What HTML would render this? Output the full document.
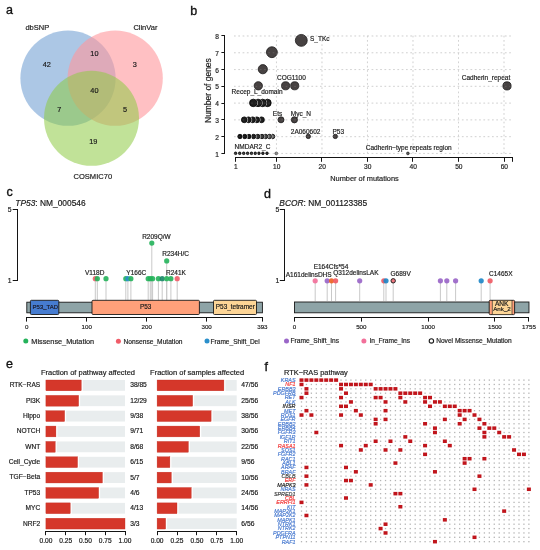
<!DOCTYPE html>
<html><head><meta charset="utf-8"><style>
html,body{margin:0;padding:0;background:#fff;}
body{width:540px;height:550px;overflow:hidden;}
svg{display:block;font-family:"Liberation Sans", sans-serif;filter:blur(0.3px);}
</style></head><body>
<svg width="540" height="550" viewBox="0 0 540 550">
<rect width="540" height="550" fill="#fff"/>
<text x="6.00" y="14.00" font-size="12.5" text-anchor="start" fill="#111" stroke="#111" stroke-width="0.35" >a</text>
<g>
<circle cx="68" cy="78.2" r="47.6" fill="rgb(89,143,203)" fill-opacity="0.5"/>
<circle cx="115.2" cy="78.2" r="47.6" fill="rgb(255,150,155)" fill-opacity="0.6"/>
<circle cx="91.5" cy="118.3" r="47.5" fill="rgb(142,202,68)" fill-opacity="0.55"/>
</g>
<text x="37.30" y="29.90" font-size="7.5" text-anchor="middle" fill="#222" stroke="#222" stroke-width="0.18" >dbSNP</text>
<text x="145.40" y="30.40" font-size="7.5" text-anchor="middle" fill="#222" stroke="#222" stroke-width="0.18" >ClinVar</text>
<text x="92.80" y="178.60" font-size="7.55" text-anchor="middle" fill="#222" stroke="#222" stroke-width="0.18" >COSMIC70</text>
<text x="46.70" y="67.35" font-size="7.3" text-anchor="middle" fill="#1a1a1a" stroke="#1a1a1a" stroke-width="0.18" >42</text>
<text x="94.40" y="55.55" font-size="7.3" text-anchor="middle" fill="#1a1a1a" stroke="#1a1a1a" stroke-width="0.18" >10</text>
<text x="134.90" y="67.35" font-size="7.3" text-anchor="middle" fill="#1a1a1a" stroke="#1a1a1a" stroke-width="0.18" >3</text>
<text x="94.40" y="93.35" font-size="7.3" text-anchor="middle" fill="#1a1a1a" stroke="#1a1a1a" stroke-width="0.18" >40</text>
<text x="59.30" y="112.25" font-size="7.3" text-anchor="middle" fill="#1a1a1a" stroke="#1a1a1a" stroke-width="0.18" >7</text>
<text x="125.10" y="112.25" font-size="7.3" text-anchor="middle" fill="#1a1a1a" stroke="#1a1a1a" stroke-width="0.18" >5</text>
<text x="93.30" y="144.05" font-size="7.3" text-anchor="middle" fill="#1a1a1a" stroke="#1a1a1a" stroke-width="0.18" >19</text>
<text x="190.20" y="15.00" font-size="12.5" text-anchor="start" fill="#111" stroke="#111" stroke-width="0.35" >b</text>
<g stroke="#cfcfcf" stroke-width="0.9" stroke-dasharray="1.7,2.6" opacity="1">
<line x1="234.0" y1="153.45" x2="512.5" y2="153.45"/>
<line x1="234.0" y1="136.67" x2="512.5" y2="136.67"/>
<line x1="234.0" y1="119.89" x2="512.5" y2="119.89"/>
<line x1="234.0" y1="103.11" x2="512.5" y2="103.11"/>
<line x1="234.0" y1="86.33" x2="512.5" y2="86.33"/>
<line x1="234.0" y1="69.55" x2="512.5" y2="69.55"/>
<line x1="234.0" y1="52.77" x2="512.5" y2="52.77"/>
<line x1="234.0" y1="35.99" x2="512.5" y2="35.99"/>
<line x1="276.46" y1="35.68999999999998" x2="276.46" y2="154.25"/>
<line x1="321.97" y1="35.68999999999998" x2="321.97" y2="154.25"/>
<line x1="367.48" y1="35.68999999999998" x2="367.48" y2="154.25"/>
<line x1="412.99" y1="35.68999999999998" x2="412.99" y2="154.25"/>
<line x1="458.50" y1="35.68999999999998" x2="458.50" y2="154.25"/>
<line x1="504.01" y1="35.68999999999998" x2="504.01" y2="154.25"/>
</g>
<circle cx="301.30" cy="40.40" r="5.95" fill="#474242" stroke="#1c1a1a" stroke-width="0.8"/>
<circle cx="271.90" cy="52.20" r="5.45" fill="#474242" stroke="#1c1a1a" stroke-width="0.8"/>
<circle cx="262.80" cy="69.20" r="4.60" fill="#474242" stroke="#1c1a1a" stroke-width="0.8"/>
<circle cx="258.30" cy="85.80" r="4.15" fill="#474242" stroke="#1c1a1a" stroke-width="0.8"/>
<circle cx="285.60" cy="85.80" r="4.05" fill="#474242" stroke="#1c1a1a" stroke-width="0.8"/>
<circle cx="294.70" cy="85.80" r="4.05" fill="#474242" stroke="#1c1a1a" stroke-width="0.8"/>
<circle cx="507.00" cy="85.90" r="4.10" fill="#474242" stroke="#1c1a1a" stroke-width="0.8"/>
<circle cx="281.00" cy="119.80" r="3.00" fill="#474242" stroke="#1c1a1a" stroke-width="0.8"/>
<circle cx="294.40" cy="119.80" r="3.10" fill="#474242" stroke="#1c1a1a" stroke-width="0.8"/>
<circle cx="308.30" cy="136.40" r="2.20" fill="#474242" stroke="#1c1a1a" stroke-width="0.8"/>
<circle cx="335.30" cy="136.40" r="2.20" fill="#474242" stroke="#1c1a1a" stroke-width="0.8"/>
<circle cx="267.45" cy="102.90" r="4.50" fill="#fff"/>
<circle cx="267.45" cy="102.90" r="3.75" fill="#1e1e1e" stroke="#000" stroke-width="0.8"/>
<circle cx="262.55" cy="102.90" r="4.50" fill="#fff"/>
<circle cx="262.55" cy="102.90" r="3.75" fill="#1e1e1e" stroke="#000" stroke-width="0.8"/>
<circle cx="258.05" cy="102.90" r="4.50" fill="#fff"/>
<circle cx="258.05" cy="102.90" r="3.75" fill="#1e1e1e" stroke="#000" stroke-width="0.8"/>
<circle cx="253.30" cy="102.90" r="4.50" fill="#fff"/>
<circle cx="253.30" cy="102.90" r="3.75" fill="#1e1e1e" stroke="#000" stroke-width="0.8"/>
<circle cx="261.50" cy="119.80" r="3.65" fill="#fff"/>
<circle cx="261.50" cy="119.80" r="2.90" fill="#1e1e1e" stroke="#000" stroke-width="0.8"/>
<circle cx="256.80" cy="119.80" r="3.65" fill="#fff"/>
<circle cx="256.80" cy="119.80" r="2.90" fill="#1e1e1e" stroke="#000" stroke-width="0.8"/>
<circle cx="252.60" cy="119.80" r="3.65" fill="#fff"/>
<circle cx="252.60" cy="119.80" r="2.90" fill="#1e1e1e" stroke="#000" stroke-width="0.8"/>
<circle cx="248.40" cy="119.80" r="3.65" fill="#fff"/>
<circle cx="248.40" cy="119.80" r="2.90" fill="#1e1e1e" stroke="#000" stroke-width="0.8"/>
<circle cx="244.30" cy="119.80" r="3.65" fill="#fff"/>
<circle cx="244.30" cy="119.80" r="2.90" fill="#1e1e1e" stroke="#000" stroke-width="0.8"/>
<circle cx="272.60" cy="136.50" r="2.95" fill="#fff"/>
<circle cx="272.60" cy="136.50" r="2.20" fill="#5e5e5e" stroke="#000" stroke-width="0.8"/>
<circle cx="269.40" cy="136.50" r="2.95" fill="#fff"/>
<circle cx="269.40" cy="136.50" r="2.20" fill="#525252" stroke="#000" stroke-width="0.8"/>
<circle cx="265.60" cy="136.50" r="2.95" fill="#fff"/>
<circle cx="265.60" cy="136.50" r="2.20" fill="#464646" stroke="#000" stroke-width="0.8"/>
<circle cx="262.00" cy="136.50" r="2.95" fill="#fff"/>
<circle cx="262.00" cy="136.50" r="2.20" fill="#3a3a3a" stroke="#000" stroke-width="0.8"/>
<circle cx="257.80" cy="136.50" r="2.95" fill="#fff"/>
<circle cx="257.80" cy="136.50" r="2.20" fill="#2e2e2e" stroke="#000" stroke-width="0.8"/>
<circle cx="253.60" cy="136.50" r="2.95" fill="#fff"/>
<circle cx="253.60" cy="136.50" r="2.20" fill="#1e1e1e" stroke="#000" stroke-width="0.8"/>
<circle cx="249.00" cy="136.50" r="2.95" fill="#fff"/>
<circle cx="249.00" cy="136.50" r="2.20" fill="#181818" stroke="#000" stroke-width="0.8"/>
<circle cx="244.80" cy="136.50" r="2.95" fill="#fff"/>
<circle cx="244.80" cy="136.50" r="2.20" fill="#141414" stroke="#000" stroke-width="0.8"/>
<circle cx="240.00" cy="136.50" r="2.95" fill="#fff"/>
<circle cx="240.00" cy="136.50" r="2.20" fill="#111" stroke="#000" stroke-width="0.8"/>
<circle cx="267.00" cy="153.30" r="2.05" fill="#fff"/>
<circle cx="267.00" cy="153.30" r="1.30" fill="#333" stroke="#000" stroke-width="0.8"/>
<circle cx="262.90" cy="153.30" r="2.05" fill="#fff"/>
<circle cx="262.90" cy="153.30" r="1.30" fill="#333" stroke="#000" stroke-width="0.8"/>
<circle cx="258.90" cy="153.30" r="2.05" fill="#fff"/>
<circle cx="258.90" cy="153.30" r="1.30" fill="#333" stroke="#000" stroke-width="0.8"/>
<circle cx="255.20" cy="153.30" r="2.05" fill="#fff"/>
<circle cx="255.20" cy="153.30" r="1.30" fill="#333" stroke="#000" stroke-width="0.8"/>
<circle cx="251.50" cy="153.30" r="2.05" fill="#fff"/>
<circle cx="251.50" cy="153.30" r="1.30" fill="#333" stroke="#000" stroke-width="0.8"/>
<circle cx="247.60" cy="153.30" r="2.05" fill="#fff"/>
<circle cx="247.60" cy="153.30" r="1.30" fill="#333" stroke="#000" stroke-width="0.8"/>
<circle cx="243.70" cy="153.30" r="2.05" fill="#fff"/>
<circle cx="243.70" cy="153.30" r="1.30" fill="#333" stroke="#000" stroke-width="0.8"/>
<circle cx="239.70" cy="153.30" r="2.05" fill="#fff"/>
<circle cx="239.70" cy="153.30" r="1.30" fill="#333" stroke="#000" stroke-width="0.8"/>
<circle cx="235.60" cy="153.30" r="2.05" fill="#fff"/>
<circle cx="235.60" cy="153.30" r="1.30" fill="#333" stroke="#000" stroke-width="0.8"/>
<circle cx="276.3" cy="153.4" r="1.4" fill="#888" stroke="#333" stroke-width="0.6"/>
<circle cx="407.9" cy="153.4" r="1.4" fill="#555" stroke="#111" stroke-width="0.6"/>
<g stroke="#cfcfcf" stroke-width="0.9" stroke-dasharray="1.7,2.6" opacity="0.18">
<line x1="234.0" y1="153.45" x2="512.5" y2="153.45"/>
<line x1="234.0" y1="136.67" x2="512.5" y2="136.67"/>
<line x1="234.0" y1="119.89" x2="512.5" y2="119.89"/>
<line x1="234.0" y1="103.11" x2="512.5" y2="103.11"/>
<line x1="234.0" y1="86.33" x2="512.5" y2="86.33"/>
<line x1="234.0" y1="69.55" x2="512.5" y2="69.55"/>
<line x1="234.0" y1="52.77" x2="512.5" y2="52.77"/>
<line x1="234.0" y1="35.99" x2="512.5" y2="35.99"/>
<line x1="276.46" y1="35.68999999999998" x2="276.46" y2="154.25"/>
<line x1="321.97" y1="35.68999999999998" x2="321.97" y2="154.25"/>
<line x1="367.48" y1="35.68999999999998" x2="367.48" y2="154.25"/>
<line x1="412.99" y1="35.68999999999998" x2="412.99" y2="154.25"/>
<line x1="458.50" y1="35.68999999999998" x2="458.50" y2="154.25"/>
<line x1="504.01" y1="35.68999999999998" x2="504.01" y2="154.25"/>
</g>
<g stroke="#141414" stroke-width="1" fill="none">
<line x1="224.5" y1="35.00" x2="224.5" y2="154.00"/>
<line x1="221.4" y1="153.50" x2="224.5" y2="153.50"/>
<line x1="221.4" y1="136.50" x2="224.5" y2="136.50"/>
<line x1="221.4" y1="119.50" x2="224.5" y2="119.50"/>
<line x1="221.4" y1="103.50" x2="224.5" y2="103.50"/>
<line x1="221.4" y1="86.50" x2="224.5" y2="86.50"/>
<line x1="221.4" y1="69.50" x2="224.5" y2="69.50"/>
<line x1="221.4" y1="52.50" x2="224.5" y2="52.50"/>
<line x1="221.4" y1="35.50" x2="224.5" y2="35.50"/>
<line x1="235.00" y1="157.5" x2="513.0" y2="157.5"/>
<line x1="235.50" y1="157.5" x2="235.50" y2="161.8"/>
<line x1="276.50" y1="157.5" x2="276.50" y2="161.8"/>
<line x1="321.50" y1="157.5" x2="321.50" y2="161.8"/>
<line x1="367.50" y1="157.5" x2="367.50" y2="161.8"/>
<line x1="412.50" y1="157.5" x2="412.50" y2="161.8"/>
<line x1="458.50" y1="157.5" x2="458.50" y2="161.8"/>
<line x1="504.50" y1="157.5" x2="504.50" y2="161.8"/>
<line x1="512.5" y1="157.5" x2="512.5" y2="161.8"/>
</g>
<text x="217.20" y="156.55" font-size="6.6" text-anchor="middle" fill="#222" stroke="#222" stroke-width="0.18" >1</text>
<text x="217.20" y="139.77" font-size="6.6" text-anchor="middle" fill="#222" stroke="#222" stroke-width="0.18" >2</text>
<text x="217.20" y="122.99" font-size="6.6" text-anchor="middle" fill="#222" stroke="#222" stroke-width="0.18" >3</text>
<text x="217.20" y="106.21" font-size="6.6" text-anchor="middle" fill="#222" stroke="#222" stroke-width="0.18" >4</text>
<text x="217.20" y="89.43" font-size="6.6" text-anchor="middle" fill="#222" stroke="#222" stroke-width="0.18" >5</text>
<text x="217.20" y="72.65" font-size="6.6" text-anchor="middle" fill="#222" stroke="#222" stroke-width="0.18" >6</text>
<text x="217.20" y="55.87" font-size="6.6" text-anchor="middle" fill="#222" stroke="#222" stroke-width="0.18" >7</text>
<text x="217.20" y="39.09" font-size="6.6" text-anchor="middle" fill="#222" stroke="#222" stroke-width="0.18" >8</text>
<text x="235.80" y="169.00" font-size="6.6" text-anchor="middle" fill="#222" stroke="#222" stroke-width="0.18" >1</text>
<text x="276.76" y="169.00" font-size="6.6" text-anchor="middle" fill="#222" stroke="#222" stroke-width="0.18" >10</text>
<text x="322.27" y="169.00" font-size="6.6" text-anchor="middle" fill="#222" stroke="#222" stroke-width="0.18" >20</text>
<text x="367.78" y="169.00" font-size="6.6" text-anchor="middle" fill="#222" stroke="#222" stroke-width="0.18" >30</text>
<text x="413.29" y="169.00" font-size="6.6" text-anchor="middle" fill="#222" stroke="#222" stroke-width="0.18" >40</text>
<text x="458.80" y="169.00" font-size="6.6" text-anchor="middle" fill="#222" stroke="#222" stroke-width="0.18" >50</text>
<text x="504.31" y="169.00" font-size="6.6" text-anchor="middle" fill="#222" stroke="#222" stroke-width="0.18" >60</text>
<text x="364.50" y="180.60" font-size="7.4" text-anchor="middle" fill="#222" stroke="#222" stroke-width="0.18" >Number of mutations</text>
<text x="0" y="0" font-size="8.45" text-anchor="middle" fill="#222" stroke="#222" stroke-width="0.18" transform="translate(211.0,90.6) rotate(-90)">Number of genes</text>
<text x="310.00" y="41.00" font-size="6.5" text-anchor="start" fill="#222" stroke="#222" stroke-width="0.18" >S_TKc</text>
<text x="277.00" y="80.00" font-size="6.5" text-anchor="start" fill="#222" stroke="#222" stroke-width="0.18" >COG1100</text>
<text x="231.60" y="94.40" font-size="6.5" text-anchor="start" fill="#222" stroke="#222" stroke-width="0.18" >Recep_L_domain</text>
<text x="272.80" y="116.00" font-size="6.5" text-anchor="start" fill="#222" stroke="#222" stroke-width="0.18" >Ets</text>
<text x="290.80" y="116.00" font-size="6.5" text-anchor="start" fill="#222" stroke="#222" stroke-width="0.18" >Myc_N</text>
<text x="290.80" y="134.00" font-size="6.5" text-anchor="start" fill="#222" stroke="#222" stroke-width="0.18" >2A060602</text>
<text x="332.50" y="134.00" font-size="6.5" text-anchor="start" fill="#222" stroke="#222" stroke-width="0.18" >P53</text>
<text x="234.60" y="149.40" font-size="6.5" text-anchor="start" fill="#222" stroke="#222" stroke-width="0.18" >NMDAR2_C</text>
<text x="461.80" y="79.50" font-size="6.5" text-anchor="start" fill="#222" stroke="#222" stroke-width="0.18" >Cadherin_repeat</text>
<text x="365.80" y="149.60" font-size="6.5" text-anchor="start" fill="#222" stroke="#222" stroke-width="0.18" >Cadherin−type repeats region</text>
<text x="6.60" y="195.60" font-size="12.5" text-anchor="start" fill="#111" stroke="#111" stroke-width="0.35" >c</text>
<text x="15.3" y="205.9" font-size="8.4" fill="#1a1a1a" stroke="#1a1a1a" stroke-width="0.18"><tspan font-style="italic">TP53</tspan>: NM_000546</text>
<g stroke="#141414" stroke-width="1">
<line x1="17.5" y1="209" x2="17.5" y2="281"/>
<line x1="12.7" y1="209.5" x2="18" y2="209.5"/>
<line x1="12.7" y1="280.5" x2="18" y2="280.5"/>
</g>
<text x="9.60" y="211.90" font-size="6.8" text-anchor="middle" fill="#222" stroke="#222" stroke-width="0.18" >5</text>
<text x="9.60" y="283.30" font-size="6.8" text-anchor="middle" fill="#222" stroke="#222" stroke-width="0.18" >1</text>
<g stroke="#c9c9c9" stroke-width="1">
<line x1="95.30" y1="278.70" x2="95.30" y2="301"/>
<line x1="97.30" y1="278.70" x2="97.30" y2="301"/>
<line x1="106.00" y1="278.70" x2="106.00" y2="301"/>
<line x1="125.80" y1="278.70" x2="125.80" y2="301"/>
<line x1="127.90" y1="278.70" x2="127.90" y2="301"/>
<line x1="130.90" y1="278.70" x2="130.90" y2="301"/>
<line x1="148.20" y1="278.70" x2="148.20" y2="301"/>
<line x1="150.30" y1="278.70" x2="150.30" y2="301"/>
<line x1="152.60" y1="278.70" x2="152.60" y2="301"/>
<line x1="151.80" y1="243.10" x2="151.80" y2="301"/>
<line x1="158.40" y1="278.70" x2="158.40" y2="301"/>
<line x1="162.20" y1="278.70" x2="162.20" y2="301"/>
<line x1="166.70" y1="278.70" x2="166.70" y2="301"/>
<line x1="166.70" y1="260.90" x2="166.70" y2="301"/>
<line x1="170.90" y1="278.70" x2="170.90" y2="301"/>
<line x1="177.20" y1="278.70" x2="177.20" y2="301"/>
</g>
<circle cx="95.30" cy="278.70" r="2.6" fill="#f05c68" fill-opacity="0.9"/>
<circle cx="97.30" cy="278.70" r="2.6" fill="#24b25a" fill-opacity="0.9"/>
<circle cx="106.00" cy="278.70" r="2.6" fill="#24b25a" fill-opacity="0.9"/>
<circle cx="125.80" cy="278.70" r="2.6" fill="#24b25a" fill-opacity="0.9"/>
<circle cx="127.90" cy="278.70" r="2.6" fill="#2a8fcb" fill-opacity="0.9"/>
<circle cx="130.90" cy="278.70" r="2.6" fill="#24b25a" fill-opacity="0.9"/>
<circle cx="148.20" cy="278.70" r="2.6" fill="#24b25a" fill-opacity="0.9"/>
<circle cx="150.30" cy="278.70" r="2.6" fill="#24b25a" fill-opacity="0.9"/>
<circle cx="152.60" cy="278.70" r="2.6" fill="#24b25a" fill-opacity="0.9"/>
<circle cx="151.80" cy="243.10" r="2.6" fill="#24b25a" fill-opacity="0.9"/>
<circle cx="158.40" cy="278.70" r="2.6" fill="#24b25a" fill-opacity="0.9"/>
<circle cx="162.20" cy="278.70" r="2.6" fill="#178766" fill-opacity="0.9"/>
<circle cx="166.70" cy="278.70" r="2.6" fill="#24b25a" fill-opacity="0.9"/>
<circle cx="166.70" cy="260.90" r="2.6" fill="#24b25a" fill-opacity="0.9"/>
<circle cx="170.90" cy="278.70" r="2.6" fill="#24b25a" fill-opacity="0.9"/>
<circle cx="177.20" cy="278.70" r="2.6" fill="#f05c68" fill-opacity="0.9"/>
<text x="94.70" y="275.20" font-size="6.5" text-anchor="middle" fill="#222" stroke="#222" stroke-width="0.18" >V118D</text>
<text x="136.30" y="275.20" font-size="6.5" text-anchor="middle" fill="#222" stroke="#222" stroke-width="0.18" >Y166C</text>
<text x="156.40" y="238.70" font-size="6.5" text-anchor="middle" fill="#222" stroke="#222" stroke-width="0.18" >R209Q/W</text>
<text x="175.60" y="256.20" font-size="6.5" text-anchor="middle" fill="#222" stroke="#222" stroke-width="0.18" >R234H/C</text>
<text x="176.00" y="275.30" font-size="6.5" text-anchor="middle" fill="#222" stroke="#222" stroke-width="0.18" >R241K</text>
<rect x="26.80" y="302.2" width="235.60" height="10.6" fill="#8ea4a7" stroke="#1a1a1a" stroke-width="0.9"/>
<rect x="30.4" y="300.3" width="28.4" height="14.2" rx="1" fill="#467cd0" stroke="#1a1a1a" stroke-width="0.9"/>
<rect x="92.0" y="300.3" width="107.4" height="14.2" rx="1" fill="#ffa07a" stroke="#1a1a1a" stroke-width="0.9"/>
<rect x="213.5" y="300.3" width="43.0" height="14.2" rx="1" fill="#fdd596" stroke="#1a1a1a" stroke-width="0.9"/>
<text x="45.40" y="308.70" font-size="6.0" text-anchor="middle" fill="#1b1b2a" stroke="#1b1b2a" stroke-width="0.18" >P53_TAD</text>
<text x="145.70" y="308.80" font-size="6.4" text-anchor="middle" fill="#1b1b1b" stroke="#1b1b1b" stroke-width="0.18" >P53</text>
<text x="235.30" y="308.80" font-size="6.45" text-anchor="middle" fill="#1b1b1b" stroke="#1b1b1b" stroke-width="0.18" >P53_tetramer</text>
<g stroke="#141414" stroke-width="1">
<line x1="26.00" y1="317.5" x2="263.00" y2="317.5"/>
<line x1="26.50" y1="317.5" x2="26.50" y2="321.6"/>
<line x1="86.50" y1="317.5" x2="86.50" y2="321.6"/>
<line x1="146.50" y1="317.5" x2="146.50" y2="321.6"/>
<line x1="206.50" y1="317.5" x2="206.50" y2="321.6"/>
<line x1="262.50" y1="317.5" x2="262.50" y2="321.6"/>
</g>
<text x="26.80" y="329.30" font-size="6.2" text-anchor="middle" fill="#222" stroke="#222" stroke-width="0.18" >0</text>
<text x="86.75" y="329.30" font-size="6.2" text-anchor="middle" fill="#222" stroke="#222" stroke-width="0.18" >100</text>
<text x="146.70" y="329.30" font-size="6.2" text-anchor="middle" fill="#222" stroke="#222" stroke-width="0.18" >200</text>
<text x="206.65" y="329.30" font-size="6.2" text-anchor="middle" fill="#222" stroke="#222" stroke-width="0.18" >300</text>
<text x="262.40" y="329.30" font-size="6.2" text-anchor="middle" fill="#222" stroke="#222" stroke-width="0.18" >393</text>
<circle cx="25.8" cy="341.1" r="2.5" fill="#24b25a"/>
<text x="31.30" y="343.50" font-size="7.3" text-anchor="start" fill="#222" stroke="#222" stroke-width="0.18" >Missense_Mutation</text>
<circle cx="118.4" cy="341.3" r="2.5" fill="#f05c68"/>
<text x="123.50" y="343.50" font-size="6.65" text-anchor="start" fill="#222" stroke="#222" stroke-width="0.18" >Nonsense_Mutation</text>
<circle cx="207.0" cy="341.1" r="2.5" fill="#2a8fcb"/>
<text x="210.60" y="343.50" font-size="6.55" text-anchor="start" fill="#222" stroke="#222" stroke-width="0.18" >Frame_Shift_Del</text>
<text x="264.00" y="197.60" font-size="12.5" text-anchor="start" fill="#111" stroke="#111" stroke-width="0.35" >d</text>
<text x="279.3" y="205.9" font-size="8.4" fill="#1a1a1a" stroke="#1a1a1a" stroke-width="0.18"><tspan font-style="italic">BCOR</tspan>: NM_001123385</text>
<g stroke="#141414" stroke-width="1">
<line x1="284.5" y1="209" x2="284.5" y2="281"/>
<line x1="279.8" y1="209.5" x2="285" y2="209.5"/>
<line x1="279.8" y1="280.5" x2="285" y2="280.5"/>
</g>
<text x="277.50" y="211.90" font-size="6.8" text-anchor="middle" fill="#222" stroke="#222" stroke-width="0.18" >5</text>
<text x="277.40" y="283.30" font-size="6.8" text-anchor="middle" fill="#222" stroke="#222" stroke-width="0.18" >1</text>
<g stroke="#c9c9c9" stroke-width="1">
<line x1="315.20" y1="280.8" x2="315.20" y2="301"/>
<line x1="327.20" y1="280.8" x2="327.20" y2="301"/>
<line x1="331.50" y1="280.8" x2="331.50" y2="301"/>
<line x1="335.60" y1="280.8" x2="335.60" y2="301"/>
<line x1="359.70" y1="280.8" x2="359.70" y2="301"/>
<line x1="383.80" y1="280.8" x2="383.80" y2="301"/>
<line x1="386.00" y1="280.8" x2="386.00" y2="301"/>
<line x1="393.20" y1="280.8" x2="393.20" y2="301"/>
<line x1="440.40" y1="280.8" x2="440.40" y2="301"/>
<line x1="446.80" y1="280.8" x2="446.80" y2="301"/>
<line x1="455.60" y1="280.8" x2="455.60" y2="301"/>
<line x1="481.20" y1="280.8" x2="481.20" y2="301"/>
<line x1="490.10" y1="280.8" x2="490.10" y2="301"/>
</g>
<circle cx="315.20" cy="280.8" r="2.6" fill="#f2709a" fill-opacity="0.92"/>
<circle cx="327.20" cy="280.8" r="2.6" fill="#9a66c8" fill-opacity="0.92"/>
<circle cx="331.50" cy="280.8" r="2.6" fill="#ee6424" fill-opacity="0.92"/>
<circle cx="335.60" cy="280.8" r="2.6" fill="#f05a64" fill-opacity="0.92"/>
<circle cx="359.70" cy="280.8" r="2.6" fill="#9a66c8" fill-opacity="0.92"/>
<circle cx="383.80" cy="280.8" r="2.6" fill="#f05a64" fill-opacity="0.92"/>
<circle cx="386.00" cy="280.8" r="2.6" fill="#1f88c8" fill-opacity="0.92"/>
<circle cx="393.20" cy="280.8" r="2.2" fill="#f07880" stroke="#222" stroke-width="1.0"/>
<circle cx="440.40" cy="280.8" r="2.6" fill="#9a66c8" fill-opacity="0.92"/>
<circle cx="446.80" cy="280.8" r="2.6" fill="#9a66c8" fill-opacity="0.92"/>
<circle cx="455.60" cy="280.8" r="2.6" fill="#9a66c8" fill-opacity="0.92"/>
<circle cx="481.20" cy="280.8" r="2.6" fill="#1f88c8" fill-opacity="0.92"/>
<circle cx="490.10" cy="280.8" r="2.6" fill="#f05a64" fill-opacity="0.92"/>
<text x="331.00" y="268.50" font-size="6.5" text-anchor="middle" fill="#222" stroke="#222" stroke-width="0.18" >E164Cfs*54</text>
<text x="308.70" y="277.30" font-size="6.5" text-anchor="middle" fill="#222" stroke="#222" stroke-width="0.18" >A161delinsDHS</text>
<text x="355.90" y="274.50" font-size="6.5" text-anchor="middle" fill="#222" stroke="#222" stroke-width="0.18" >Q312delinsLAK</text>
<text x="400.70" y="275.70" font-size="6.5" text-anchor="middle" fill="#222" stroke="#222" stroke-width="0.18" >G689V</text>
<text x="500.80" y="275.70" font-size="6.5" text-anchor="middle" fill="#222" stroke="#222" stroke-width="0.18" >C1465X</text>
<rect x="294.50" y="302.0" width="234.47" height="10.8" fill="#8ea4a7" stroke="#1a1a1a" stroke-width="0.9"/>
<rect x="489.2" y="300.3" width="25.4" height="14.3" rx="1" fill="#ffa07a" stroke="#1a1a1a" stroke-width="0.9"/>
<rect x="492.2" y="300.3" width="19.8" height="14.3" fill="#fdd596" stroke="#1a1a1a" stroke-width="0.6"/>
<text x="501.70" y="306.00" font-size="6.6" text-anchor="middle" fill="#1b1b1b" stroke="#1b1b1b" stroke-width="0.18" >ANK</text>
<text x="502.00" y="311.30" font-size="6.2" text-anchor="middle" fill="#1b1b1b" stroke="#1b1b1b" stroke-width="0.18" >Ank_2</text>
<g stroke="#141414" stroke-width="1">
<line x1="294.00" y1="317.5" x2="529.00" y2="317.5"/>
<line x1="294.50" y1="317.5" x2="294.50" y2="321.6"/>
<line x1="361.50" y1="317.5" x2="361.50" y2="321.6"/>
<line x1="428.50" y1="317.5" x2="428.50" y2="321.6"/>
<line x1="494.50" y1="317.5" x2="494.50" y2="321.6"/>
<line x1="528.50" y1="317.5" x2="528.50" y2="321.6"/>
</g>
<text x="294.50" y="329.20" font-size="6.2" text-anchor="middle" fill="#222" stroke="#222" stroke-width="0.18" >0</text>
<text x="361.30" y="329.20" font-size="6.2" text-anchor="middle" fill="#222" stroke="#222" stroke-width="0.18" >500</text>
<text x="428.10" y="329.20" font-size="6.2" text-anchor="middle" fill="#222" stroke="#222" stroke-width="0.18" >1000</text>
<text x="494.90" y="329.20" font-size="6.2" text-anchor="middle" fill="#222" stroke="#222" stroke-width="0.18" >1500</text>
<text x="528.97" y="329.20" font-size="6.2" text-anchor="middle" fill="#222" stroke="#222" stroke-width="0.18" >1755</text>
<circle cx="286.5" cy="340.9" r="2.5" fill="#9a66c8"/>
<text x="290.60" y="343.30" font-size="6.6" text-anchor="start" fill="#222" stroke="#222" stroke-width="0.18" >Frame_Shift_Ins</text>
<circle cx="363.9" cy="340.9" r="2.5" fill="#f2709a"/>
<text x="369.40" y="343.30" font-size="6.6" text-anchor="start" fill="#222" stroke="#222" stroke-width="0.18" >In_Frame_Ins</text>
<circle cx="431.4" cy="340.9" r="2.2" fill="none" stroke="#1a1a1a" stroke-width="1.1"/>
<text x="436.20" y="343.30" font-size="6.6" text-anchor="start" fill="#222" stroke="#222" stroke-width="0.18" >Novel Missense_Mutation</text>
<text x="6.00" y="368.20" font-size="12.5" text-anchor="start" fill="#111" stroke="#111" stroke-width="0.35" >e</text>
<text x="88.00" y="374.80" font-size="7.5" text-anchor="middle" fill="#1a1a1a" stroke="#1a1a1a" stroke-width="0.18" >Fraction of pathway affected</text>
<text x="197.10" y="374.80" font-size="7.5" text-anchor="middle" fill="#1a1a1a" stroke="#1a1a1a" stroke-width="0.18" >Fraction of samples affected</text>
<rect x="82.76" y="380.00" width="42.24" height="10.8" fill="#e9edee"/>
<rect x="45.90" y="380.00" width="35.36" height="10.8" fill="#d5372a" stroke="#c22c20" stroke-width="0.35"/>
<rect x="225.41" y="380.00" width="11.29" height="10.8" fill="#e9edee"/>
<rect x="157.10" y="380.00" width="66.81" height="10.8" fill="#d5372a" stroke="#c22c20" stroke-width="0.35"/>
<text x="40.20" y="387.30" font-size="6.6" text-anchor="end" fill="#1a1a1a" stroke="#1a1a1a" stroke-width="0.18" >RTK−RAS</text>
<text x="130.20" y="387.40" font-size="6.65" text-anchor="start" fill="#1a1a1a" stroke="#1a1a1a" stroke-width="0.18" >38/85</text>
<text x="241.30" y="387.40" font-size="6.75" text-anchor="start" fill="#1a1a1a" stroke="#1a1a1a" stroke-width="0.18" >47/56</text>
<rect x="80.13" y="395.36" width="44.87" height="10.8" fill="#e9edee"/>
<rect x="45.90" y="395.36" width="32.73" height="10.8" fill="#d5372a" stroke="#c22c20" stroke-width="0.35"/>
<rect x="194.14" y="395.36" width="42.56" height="10.8" fill="#e9edee"/>
<rect x="157.10" y="395.36" width="35.54" height="10.8" fill="#d5372a" stroke="#c22c20" stroke-width="0.35"/>
<text x="40.20" y="402.66" font-size="6.6" text-anchor="end" fill="#1a1a1a" stroke="#1a1a1a" stroke-width="0.18" >PI3K</text>
<text x="130.20" y="402.76" font-size="6.65" text-anchor="start" fill="#1a1a1a" stroke="#1a1a1a" stroke-width="0.18" >12/29</text>
<text x="241.30" y="402.76" font-size="6.75" text-anchor="start" fill="#1a1a1a" stroke="#1a1a1a" stroke-width="0.18" >25/56</text>
<rect x="66.13" y="410.72" width="58.87" height="10.8" fill="#e9edee"/>
<rect x="45.90" y="410.72" width="18.73" height="10.8" fill="#d5372a" stroke="#c22c20" stroke-width="0.35"/>
<rect x="212.61" y="410.72" width="24.09" height="10.8" fill="#e9edee"/>
<rect x="157.10" y="410.72" width="54.01" height="10.8" fill="#d5372a" stroke="#c22c20" stroke-width="0.35"/>
<text x="40.20" y="418.02" font-size="6.6" text-anchor="end" fill="#1a1a1a" stroke="#1a1a1a" stroke-width="0.18" >Hippo</text>
<text x="130.20" y="418.12" font-size="6.65" text-anchor="start" fill="#1a1a1a" stroke="#1a1a1a" stroke-width="0.18" >9/38</text>
<text x="241.30" y="418.12" font-size="6.75" text-anchor="start" fill="#1a1a1a" stroke="#1a1a1a" stroke-width="0.18" >38/56</text>
<rect x="57.43" y="426.08" width="67.57" height="10.8" fill="#e9edee"/>
<rect x="45.90" y="426.08" width="10.03" height="10.8" fill="#d5372a" stroke="#c22c20" stroke-width="0.35"/>
<rect x="201.24" y="426.08" width="35.46" height="10.8" fill="#e9edee"/>
<rect x="157.10" y="426.08" width="42.64" height="10.8" fill="#d5372a" stroke="#c22c20" stroke-width="0.35"/>
<text x="40.20" y="433.38" font-size="6.6" text-anchor="end" fill="#1a1a1a" stroke="#1a1a1a" stroke-width="0.18" >NOTCH</text>
<text x="130.20" y="433.48" font-size="6.65" text-anchor="start" fill="#1a1a1a" stroke="#1a1a1a" stroke-width="0.18" >9/71</text>
<text x="241.30" y="433.48" font-size="6.75" text-anchor="start" fill="#1a1a1a" stroke="#1a1a1a" stroke-width="0.18" >30/56</text>
<rect x="56.71" y="441.44" width="68.29" height="10.8" fill="#e9edee"/>
<rect x="45.90" y="441.44" width="9.31" height="10.8" fill="#d5372a" stroke="#c22c20" stroke-width="0.35"/>
<rect x="189.87" y="441.44" width="46.83" height="10.8" fill="#e9edee"/>
<rect x="157.10" y="441.44" width="31.27" height="10.8" fill="#d5372a" stroke="#c22c20" stroke-width="0.35"/>
<text x="40.20" y="448.74" font-size="6.6" text-anchor="end" fill="#1a1a1a" stroke="#1a1a1a" stroke-width="0.18" >WNT</text>
<text x="130.20" y="448.84" font-size="6.65" text-anchor="start" fill="#1a1a1a" stroke="#1a1a1a" stroke-width="0.18" >8/68</text>
<text x="241.30" y="448.84" font-size="6.75" text-anchor="start" fill="#1a1a1a" stroke="#1a1a1a" stroke-width="0.18" >22/56</text>
<rect x="79.04" y="456.80" width="45.96" height="10.8" fill="#e9edee"/>
<rect x="45.90" y="456.80" width="31.64" height="10.8" fill="#d5372a" stroke="#c22c20" stroke-width="0.35"/>
<rect x="171.39" y="456.80" width="65.31" height="10.8" fill="#e9edee"/>
<rect x="157.10" y="456.80" width="12.79" height="10.8" fill="#d5372a" stroke="#c22c20" stroke-width="0.35"/>
<text x="40.20" y="464.10" font-size="6.6" text-anchor="end" fill="#1a1a1a" stroke="#1a1a1a" stroke-width="0.18" >Cell_Cycle</text>
<text x="130.20" y="464.20" font-size="6.65" text-anchor="start" fill="#1a1a1a" stroke="#1a1a1a" stroke-width="0.18" >6/15</text>
<text x="241.30" y="464.20" font-size="6.75" text-anchor="start" fill="#1a1a1a" stroke="#1a1a1a" stroke-width="0.18" >9/56</text>
<rect x="103.90" y="472.16" width="21.10" height="10.8" fill="#e9edee"/>
<rect x="45.90" y="472.16" width="56.50" height="10.8" fill="#d5372a" stroke="#c22c20" stroke-width="0.35"/>
<rect x="172.81" y="472.16" width="63.89" height="10.8" fill="#e9edee"/>
<rect x="157.10" y="472.16" width="14.21" height="10.8" fill="#d5372a" stroke="#c22c20" stroke-width="0.35"/>
<text x="40.20" y="479.46" font-size="6.6" text-anchor="end" fill="#1a1a1a" stroke="#1a1a1a" stroke-width="0.18" >TGF−Beta</text>
<text x="130.20" y="479.56" font-size="6.65" text-anchor="start" fill="#1a1a1a" stroke="#1a1a1a" stroke-width="0.18" >5/7</text>
<text x="241.30" y="479.56" font-size="6.75" text-anchor="start" fill="#1a1a1a" stroke="#1a1a1a" stroke-width="0.18" >10/56</text>
<rect x="100.13" y="487.52" width="24.87" height="10.8" fill="#e9edee"/>
<rect x="45.90" y="487.52" width="52.73" height="10.8" fill="#d5372a" stroke="#c22c20" stroke-width="0.35"/>
<rect x="192.71" y="487.52" width="43.99" height="10.8" fill="#e9edee"/>
<rect x="157.10" y="487.52" width="34.11" height="10.8" fill="#d5372a" stroke="#c22c20" stroke-width="0.35"/>
<text x="40.20" y="494.82" font-size="6.6" text-anchor="end" fill="#1a1a1a" stroke="#1a1a1a" stroke-width="0.18" >TP53</text>
<text x="130.20" y="494.92" font-size="6.65" text-anchor="start" fill="#1a1a1a" stroke="#1a1a1a" stroke-width="0.18" >4/6</text>
<text x="241.30" y="494.92" font-size="6.75" text-anchor="start" fill="#1a1a1a" stroke="#1a1a1a" stroke-width="0.18" >24/56</text>
<rect x="71.74" y="502.88" width="53.26" height="10.8" fill="#e9edee"/>
<rect x="45.90" y="502.88" width="24.34" height="10.8" fill="#d5372a" stroke="#c22c20" stroke-width="0.35"/>
<rect x="178.50" y="502.88" width="58.20" height="10.8" fill="#e9edee"/>
<rect x="157.10" y="502.88" width="19.90" height="10.8" fill="#d5372a" stroke="#c22c20" stroke-width="0.35"/>
<text x="40.20" y="510.18" font-size="6.6" text-anchor="end" fill="#1a1a1a" stroke="#1a1a1a" stroke-width="0.18" >MYC</text>
<text x="130.20" y="510.28" font-size="6.65" text-anchor="start" fill="#1a1a1a" stroke="#1a1a1a" stroke-width="0.18" >4/13</text>
<text x="241.30" y="510.28" font-size="6.75" text-anchor="start" fill="#1a1a1a" stroke="#1a1a1a" stroke-width="0.18" >14/56</text>
<rect x="45.90" y="518.24" width="79.10" height="10.8" fill="#d5372a" stroke="#c22c20" stroke-width="0.35"/>
<rect x="167.13" y="518.24" width="69.57" height="10.8" fill="#e9edee"/>
<rect x="157.10" y="518.24" width="8.53" height="10.8" fill="#d5372a" stroke="#c22c20" stroke-width="0.35"/>
<text x="40.20" y="525.54" font-size="6.6" text-anchor="end" fill="#1a1a1a" stroke="#1a1a1a" stroke-width="0.18" >NRF2</text>
<text x="130.20" y="525.64" font-size="6.65" text-anchor="start" fill="#1a1a1a" stroke="#1a1a1a" stroke-width="0.18" >3/3</text>
<text x="241.30" y="525.64" font-size="6.75" text-anchor="start" fill="#1a1a1a" stroke="#1a1a1a" stroke-width="0.18" >6/56</text>
<g stroke="#141414" stroke-width="1">
<line x1="45.0" y1="531.5" x2="126.0" y2="531.5"/>
<line x1="45.50" y1="531.5" x2="45.50" y2="535.2"/>
<line x1="65.50" y1="531.5" x2="65.50" y2="535.2"/>
<line x1="85.50" y1="531.5" x2="85.50" y2="535.2"/>
<line x1="105.50" y1="531.5" x2="105.50" y2="535.2"/>
<line x1="125.50" y1="531.5" x2="125.50" y2="535.2"/>
</g>
<text x="45.90" y="542.90" font-size="6.6" text-anchor="middle" fill="#1a1a1a" stroke="#1a1a1a" stroke-width="0.18" >0.00</text>
<text x="65.67" y="542.90" font-size="6.6" text-anchor="middle" fill="#1a1a1a" stroke="#1a1a1a" stroke-width="0.18" >0.25</text>
<text x="85.45" y="542.90" font-size="6.6" text-anchor="middle" fill="#1a1a1a" stroke="#1a1a1a" stroke-width="0.18" >0.50</text>
<text x="105.22" y="542.90" font-size="6.6" text-anchor="middle" fill="#1a1a1a" stroke="#1a1a1a" stroke-width="0.18" >0.75</text>
<text x="125.00" y="542.90" font-size="6.6" text-anchor="middle" fill="#1a1a1a" stroke="#1a1a1a" stroke-width="0.18" >1.00</text>
<g stroke="#141414" stroke-width="1">
<line x1="157.0" y1="531.5" x2="237.0" y2="531.5"/>
<line x1="157.50" y1="531.5" x2="157.50" y2="535.2"/>
<line x1="177.50" y1="531.5" x2="177.50" y2="535.2"/>
<line x1="196.50" y1="531.5" x2="196.50" y2="535.2"/>
<line x1="216.50" y1="531.5" x2="216.50" y2="535.2"/>
<line x1="236.50" y1="531.5" x2="236.50" y2="535.2"/>
</g>
<text x="157.10" y="542.90" font-size="6.6" text-anchor="middle" fill="#1a1a1a" stroke="#1a1a1a" stroke-width="0.18" >0.00</text>
<text x="177.00" y="542.90" font-size="6.6" text-anchor="middle" fill="#1a1a1a" stroke="#1a1a1a" stroke-width="0.18" >0.25</text>
<text x="196.90" y="542.90" font-size="6.6" text-anchor="middle" fill="#1a1a1a" stroke="#1a1a1a" stroke-width="0.18" >0.50</text>
<text x="216.80" y="542.90" font-size="6.6" text-anchor="middle" fill="#1a1a1a" stroke="#1a1a1a" stroke-width="0.18" >0.75</text>
<text x="236.70" y="542.90" font-size="6.6" text-anchor="middle" fill="#1a1a1a" stroke="#1a1a1a" stroke-width="0.18" >1.00</text>
<text x="264.50" y="370.60" font-size="12.5" text-anchor="start" fill="#111" stroke="#111" stroke-width="0.35" >f</text>
<text x="284.00" y="374.70" font-size="7.4" text-anchor="start" fill="#1a1a1a" stroke="#1a1a1a" stroke-width="0.18" >RTK−RAS pathway</text>
<g fill="#b4b4b4">
<rect x="340.39" y="379.45" width="1.3" height="1.3"/>
<rect x="345.34" y="379.45" width="1.3" height="1.3"/>
<rect x="350.28" y="379.45" width="1.3" height="1.3"/>
<rect x="355.22" y="379.45" width="1.3" height="1.3"/>
<rect x="360.17" y="379.45" width="1.3" height="1.3"/>
<rect x="365.11" y="379.45" width="1.3" height="1.3"/>
<rect x="370.05" y="379.45" width="1.3" height="1.3"/>
<rect x="375.00" y="379.45" width="1.3" height="1.3"/>
<rect x="379.94" y="379.45" width="1.3" height="1.3"/>
<rect x="384.88" y="379.45" width="1.3" height="1.3"/>
<rect x="389.82" y="379.45" width="1.3" height="1.3"/>
<rect x="394.77" y="379.45" width="1.3" height="1.3"/>
<rect x="399.71" y="379.45" width="1.3" height="1.3"/>
<rect x="404.65" y="379.45" width="1.3" height="1.3"/>
<rect x="409.60" y="379.45" width="1.3" height="1.3"/>
<rect x="414.54" y="379.45" width="1.3" height="1.3"/>
<rect x="419.48" y="379.45" width="1.3" height="1.3"/>
<rect x="424.43" y="379.45" width="1.3" height="1.3"/>
<rect x="429.37" y="379.45" width="1.3" height="1.3"/>
<rect x="434.31" y="379.45" width="1.3" height="1.3"/>
<rect x="439.25" y="379.45" width="1.3" height="1.3"/>
<rect x="444.20" y="379.45" width="1.3" height="1.3"/>
<rect x="449.14" y="379.45" width="1.3" height="1.3"/>
<rect x="454.08" y="379.45" width="1.3" height="1.3"/>
<rect x="459.03" y="379.45" width="1.3" height="1.3"/>
<rect x="463.97" y="379.45" width="1.3" height="1.3"/>
<rect x="468.91" y="379.45" width="1.3" height="1.3"/>
<rect x="473.86" y="379.45" width="1.3" height="1.3"/>
<rect x="478.80" y="379.45" width="1.3" height="1.3"/>
<rect x="483.74" y="379.45" width="1.3" height="1.3"/>
<rect x="488.68" y="379.45" width="1.3" height="1.3"/>
<rect x="493.63" y="379.45" width="1.3" height="1.3"/>
<rect x="498.57" y="379.45" width="1.3" height="1.3"/>
<rect x="503.51" y="379.45" width="1.3" height="1.3"/>
<rect x="508.46" y="379.45" width="1.3" height="1.3"/>
<rect x="513.40" y="379.45" width="1.3" height="1.3"/>
<rect x="518.34" y="379.45" width="1.3" height="1.3"/>
<rect x="523.28" y="379.45" width="1.3" height="1.3"/>
<rect x="528.23" y="379.45" width="1.3" height="1.3"/>
<rect x="305.79" y="383.82" width="1.3" height="1.3"/>
<rect x="310.74" y="383.82" width="1.3" height="1.3"/>
<rect x="315.68" y="383.82" width="1.3" height="1.3"/>
<rect x="320.62" y="383.82" width="1.3" height="1.3"/>
<rect x="325.56" y="383.82" width="1.3" height="1.3"/>
<rect x="330.51" y="383.82" width="1.3" height="1.3"/>
<rect x="335.45" y="383.82" width="1.3" height="1.3"/>
<rect x="375.00" y="383.82" width="1.3" height="1.3"/>
<rect x="379.94" y="383.82" width="1.3" height="1.3"/>
<rect x="384.88" y="383.82" width="1.3" height="1.3"/>
<rect x="389.82" y="383.82" width="1.3" height="1.3"/>
<rect x="394.77" y="383.82" width="1.3" height="1.3"/>
<rect x="399.71" y="383.82" width="1.3" height="1.3"/>
<rect x="404.65" y="383.82" width="1.3" height="1.3"/>
<rect x="409.60" y="383.82" width="1.3" height="1.3"/>
<rect x="414.54" y="383.82" width="1.3" height="1.3"/>
<rect x="419.48" y="383.82" width="1.3" height="1.3"/>
<rect x="424.43" y="383.82" width="1.3" height="1.3"/>
<rect x="429.37" y="383.82" width="1.3" height="1.3"/>
<rect x="434.31" y="383.82" width="1.3" height="1.3"/>
<rect x="439.25" y="383.82" width="1.3" height="1.3"/>
<rect x="444.20" y="383.82" width="1.3" height="1.3"/>
<rect x="449.14" y="383.82" width="1.3" height="1.3"/>
<rect x="454.08" y="383.82" width="1.3" height="1.3"/>
<rect x="459.03" y="383.82" width="1.3" height="1.3"/>
<rect x="463.97" y="383.82" width="1.3" height="1.3"/>
<rect x="468.91" y="383.82" width="1.3" height="1.3"/>
<rect x="473.86" y="383.82" width="1.3" height="1.3"/>
<rect x="478.80" y="383.82" width="1.3" height="1.3"/>
<rect x="483.74" y="383.82" width="1.3" height="1.3"/>
<rect x="488.68" y="383.82" width="1.3" height="1.3"/>
<rect x="493.63" y="383.82" width="1.3" height="1.3"/>
<rect x="498.57" y="383.82" width="1.3" height="1.3"/>
<rect x="503.51" y="383.82" width="1.3" height="1.3"/>
<rect x="508.46" y="383.82" width="1.3" height="1.3"/>
<rect x="513.40" y="383.82" width="1.3" height="1.3"/>
<rect x="518.34" y="383.82" width="1.3" height="1.3"/>
<rect x="523.28" y="383.82" width="1.3" height="1.3"/>
<rect x="528.23" y="383.82" width="1.3" height="1.3"/>
<rect x="300.85" y="388.18" width="1.3" height="1.3"/>
<rect x="310.74" y="388.18" width="1.3" height="1.3"/>
<rect x="315.68" y="388.18" width="1.3" height="1.3"/>
<rect x="320.62" y="388.18" width="1.3" height="1.3"/>
<rect x="325.56" y="388.18" width="1.3" height="1.3"/>
<rect x="330.51" y="388.18" width="1.3" height="1.3"/>
<rect x="335.45" y="388.18" width="1.3" height="1.3"/>
<rect x="345.34" y="388.18" width="1.3" height="1.3"/>
<rect x="350.28" y="388.18" width="1.3" height="1.3"/>
<rect x="355.22" y="388.18" width="1.3" height="1.3"/>
<rect x="360.17" y="388.18" width="1.3" height="1.3"/>
<rect x="365.11" y="388.18" width="1.3" height="1.3"/>
<rect x="370.05" y="388.18" width="1.3" height="1.3"/>
<rect x="399.71" y="388.18" width="1.3" height="1.3"/>
<rect x="404.65" y="388.18" width="1.3" height="1.3"/>
<rect x="409.60" y="388.18" width="1.3" height="1.3"/>
<rect x="414.54" y="388.18" width="1.3" height="1.3"/>
<rect x="419.48" y="388.18" width="1.3" height="1.3"/>
<rect x="424.43" y="388.18" width="1.3" height="1.3"/>
<rect x="429.37" y="388.18" width="1.3" height="1.3"/>
<rect x="434.31" y="388.18" width="1.3" height="1.3"/>
<rect x="439.25" y="388.18" width="1.3" height="1.3"/>
<rect x="444.20" y="388.18" width="1.3" height="1.3"/>
<rect x="449.14" y="388.18" width="1.3" height="1.3"/>
<rect x="454.08" y="388.18" width="1.3" height="1.3"/>
<rect x="459.03" y="388.18" width="1.3" height="1.3"/>
<rect x="463.97" y="388.18" width="1.3" height="1.3"/>
<rect x="468.91" y="388.18" width="1.3" height="1.3"/>
<rect x="473.86" y="388.18" width="1.3" height="1.3"/>
<rect x="478.80" y="388.18" width="1.3" height="1.3"/>
<rect x="483.74" y="388.18" width="1.3" height="1.3"/>
<rect x="488.68" y="388.18" width="1.3" height="1.3"/>
<rect x="493.63" y="388.18" width="1.3" height="1.3"/>
<rect x="498.57" y="388.18" width="1.3" height="1.3"/>
<rect x="503.51" y="388.18" width="1.3" height="1.3"/>
<rect x="508.46" y="388.18" width="1.3" height="1.3"/>
<rect x="513.40" y="388.18" width="1.3" height="1.3"/>
<rect x="518.34" y="388.18" width="1.3" height="1.3"/>
<rect x="523.28" y="388.18" width="1.3" height="1.3"/>
<rect x="528.23" y="388.18" width="1.3" height="1.3"/>
<rect x="300.85" y="392.55" width="1.3" height="1.3"/>
<rect x="310.74" y="392.55" width="1.3" height="1.3"/>
<rect x="315.68" y="392.55" width="1.3" height="1.3"/>
<rect x="320.62" y="392.55" width="1.3" height="1.3"/>
<rect x="325.56" y="392.55" width="1.3" height="1.3"/>
<rect x="330.51" y="392.55" width="1.3" height="1.3"/>
<rect x="335.45" y="392.55" width="1.3" height="1.3"/>
<rect x="340.39" y="392.55" width="1.3" height="1.3"/>
<rect x="350.28" y="392.55" width="1.3" height="1.3"/>
<rect x="355.22" y="392.55" width="1.3" height="1.3"/>
<rect x="360.17" y="392.55" width="1.3" height="1.3"/>
<rect x="365.11" y="392.55" width="1.3" height="1.3"/>
<rect x="370.05" y="392.55" width="1.3" height="1.3"/>
<rect x="375.00" y="392.55" width="1.3" height="1.3"/>
<rect x="379.94" y="392.55" width="1.3" height="1.3"/>
<rect x="384.88" y="392.55" width="1.3" height="1.3"/>
<rect x="389.82" y="392.55" width="1.3" height="1.3"/>
<rect x="394.77" y="392.55" width="1.3" height="1.3"/>
<rect x="424.43" y="392.55" width="1.3" height="1.3"/>
<rect x="429.37" y="392.55" width="1.3" height="1.3"/>
<rect x="434.31" y="392.55" width="1.3" height="1.3"/>
<rect x="439.25" y="392.55" width="1.3" height="1.3"/>
<rect x="444.20" y="392.55" width="1.3" height="1.3"/>
<rect x="449.14" y="392.55" width="1.3" height="1.3"/>
<rect x="454.08" y="392.55" width="1.3" height="1.3"/>
<rect x="459.03" y="392.55" width="1.3" height="1.3"/>
<rect x="463.97" y="392.55" width="1.3" height="1.3"/>
<rect x="468.91" y="392.55" width="1.3" height="1.3"/>
<rect x="473.86" y="392.55" width="1.3" height="1.3"/>
<rect x="478.80" y="392.55" width="1.3" height="1.3"/>
<rect x="483.74" y="392.55" width="1.3" height="1.3"/>
<rect x="488.68" y="392.55" width="1.3" height="1.3"/>
<rect x="493.63" y="392.55" width="1.3" height="1.3"/>
<rect x="498.57" y="392.55" width="1.3" height="1.3"/>
<rect x="503.51" y="392.55" width="1.3" height="1.3"/>
<rect x="508.46" y="392.55" width="1.3" height="1.3"/>
<rect x="513.40" y="392.55" width="1.3" height="1.3"/>
<rect x="518.34" y="392.55" width="1.3" height="1.3"/>
<rect x="523.28" y="392.55" width="1.3" height="1.3"/>
<rect x="528.23" y="392.55" width="1.3" height="1.3"/>
<rect x="305.79" y="396.92" width="1.3" height="1.3"/>
<rect x="310.74" y="396.92" width="1.3" height="1.3"/>
<rect x="315.68" y="396.92" width="1.3" height="1.3"/>
<rect x="320.62" y="396.92" width="1.3" height="1.3"/>
<rect x="325.56" y="396.92" width="1.3" height="1.3"/>
<rect x="330.51" y="396.92" width="1.3" height="1.3"/>
<rect x="335.45" y="396.92" width="1.3" height="1.3"/>
<rect x="345.34" y="396.92" width="1.3" height="1.3"/>
<rect x="350.28" y="396.92" width="1.3" height="1.3"/>
<rect x="355.22" y="396.92" width="1.3" height="1.3"/>
<rect x="360.17" y="396.92" width="1.3" height="1.3"/>
<rect x="365.11" y="396.92" width="1.3" height="1.3"/>
<rect x="370.05" y="396.92" width="1.3" height="1.3"/>
<rect x="384.88" y="396.92" width="1.3" height="1.3"/>
<rect x="389.82" y="396.92" width="1.3" height="1.3"/>
<rect x="394.77" y="396.92" width="1.3" height="1.3"/>
<rect x="404.65" y="396.92" width="1.3" height="1.3"/>
<rect x="409.60" y="396.92" width="1.3" height="1.3"/>
<rect x="414.54" y="396.92" width="1.3" height="1.3"/>
<rect x="419.48" y="396.92" width="1.3" height="1.3"/>
<rect x="434.31" y="396.92" width="1.3" height="1.3"/>
<rect x="439.25" y="396.92" width="1.3" height="1.3"/>
<rect x="444.20" y="396.92" width="1.3" height="1.3"/>
<rect x="449.14" y="396.92" width="1.3" height="1.3"/>
<rect x="454.08" y="396.92" width="1.3" height="1.3"/>
<rect x="459.03" y="396.92" width="1.3" height="1.3"/>
<rect x="463.97" y="396.92" width="1.3" height="1.3"/>
<rect x="468.91" y="396.92" width="1.3" height="1.3"/>
<rect x="473.86" y="396.92" width="1.3" height="1.3"/>
<rect x="478.80" y="396.92" width="1.3" height="1.3"/>
<rect x="483.74" y="396.92" width="1.3" height="1.3"/>
<rect x="488.68" y="396.92" width="1.3" height="1.3"/>
<rect x="493.63" y="396.92" width="1.3" height="1.3"/>
<rect x="498.57" y="396.92" width="1.3" height="1.3"/>
<rect x="503.51" y="396.92" width="1.3" height="1.3"/>
<rect x="508.46" y="396.92" width="1.3" height="1.3"/>
<rect x="513.40" y="396.92" width="1.3" height="1.3"/>
<rect x="518.34" y="396.92" width="1.3" height="1.3"/>
<rect x="523.28" y="396.92" width="1.3" height="1.3"/>
<rect x="528.23" y="396.92" width="1.3" height="1.3"/>
<rect x="300.85" y="401.29" width="1.3" height="1.3"/>
<rect x="305.79" y="401.29" width="1.3" height="1.3"/>
<rect x="310.74" y="401.29" width="1.3" height="1.3"/>
<rect x="315.68" y="401.29" width="1.3" height="1.3"/>
<rect x="320.62" y="401.29" width="1.3" height="1.3"/>
<rect x="325.56" y="401.29" width="1.3" height="1.3"/>
<rect x="330.51" y="401.29" width="1.3" height="1.3"/>
<rect x="335.45" y="401.29" width="1.3" height="1.3"/>
<rect x="340.39" y="401.29" width="1.3" height="1.3"/>
<rect x="345.34" y="401.29" width="1.3" height="1.3"/>
<rect x="355.22" y="401.29" width="1.3" height="1.3"/>
<rect x="360.17" y="401.29" width="1.3" height="1.3"/>
<rect x="365.11" y="401.29" width="1.3" height="1.3"/>
<rect x="370.05" y="401.29" width="1.3" height="1.3"/>
<rect x="375.00" y="401.29" width="1.3" height="1.3"/>
<rect x="379.94" y="401.29" width="1.3" height="1.3"/>
<rect x="389.82" y="401.29" width="1.3" height="1.3"/>
<rect x="394.77" y="401.29" width="1.3" height="1.3"/>
<rect x="399.71" y="401.29" width="1.3" height="1.3"/>
<rect x="409.60" y="401.29" width="1.3" height="1.3"/>
<rect x="414.54" y="401.29" width="1.3" height="1.3"/>
<rect x="419.48" y="401.29" width="1.3" height="1.3"/>
<rect x="429.37" y="401.29" width="1.3" height="1.3"/>
<rect x="444.20" y="401.29" width="1.3" height="1.3"/>
<rect x="449.14" y="401.29" width="1.3" height="1.3"/>
<rect x="454.08" y="401.29" width="1.3" height="1.3"/>
<rect x="459.03" y="401.29" width="1.3" height="1.3"/>
<rect x="463.97" y="401.29" width="1.3" height="1.3"/>
<rect x="468.91" y="401.29" width="1.3" height="1.3"/>
<rect x="473.86" y="401.29" width="1.3" height="1.3"/>
<rect x="478.80" y="401.29" width="1.3" height="1.3"/>
<rect x="483.74" y="401.29" width="1.3" height="1.3"/>
<rect x="488.68" y="401.29" width="1.3" height="1.3"/>
<rect x="493.63" y="401.29" width="1.3" height="1.3"/>
<rect x="498.57" y="401.29" width="1.3" height="1.3"/>
<rect x="503.51" y="401.29" width="1.3" height="1.3"/>
<rect x="508.46" y="401.29" width="1.3" height="1.3"/>
<rect x="513.40" y="401.29" width="1.3" height="1.3"/>
<rect x="518.34" y="401.29" width="1.3" height="1.3"/>
<rect x="523.28" y="401.29" width="1.3" height="1.3"/>
<rect x="528.23" y="401.29" width="1.3" height="1.3"/>
<rect x="300.85" y="405.65" width="1.3" height="1.3"/>
<rect x="305.79" y="405.65" width="1.3" height="1.3"/>
<rect x="310.74" y="405.65" width="1.3" height="1.3"/>
<rect x="315.68" y="405.65" width="1.3" height="1.3"/>
<rect x="320.62" y="405.65" width="1.3" height="1.3"/>
<rect x="325.56" y="405.65" width="1.3" height="1.3"/>
<rect x="330.51" y="405.65" width="1.3" height="1.3"/>
<rect x="335.45" y="405.65" width="1.3" height="1.3"/>
<rect x="350.28" y="405.65" width="1.3" height="1.3"/>
<rect x="355.22" y="405.65" width="1.3" height="1.3"/>
<rect x="360.17" y="405.65" width="1.3" height="1.3"/>
<rect x="365.11" y="405.65" width="1.3" height="1.3"/>
<rect x="370.05" y="405.65" width="1.3" height="1.3"/>
<rect x="375.00" y="405.65" width="1.3" height="1.3"/>
<rect x="379.94" y="405.65" width="1.3" height="1.3"/>
<rect x="384.88" y="405.65" width="1.3" height="1.3"/>
<rect x="389.82" y="405.65" width="1.3" height="1.3"/>
<rect x="394.77" y="405.65" width="1.3" height="1.3"/>
<rect x="399.71" y="405.65" width="1.3" height="1.3"/>
<rect x="404.65" y="405.65" width="1.3" height="1.3"/>
<rect x="409.60" y="405.65" width="1.3" height="1.3"/>
<rect x="414.54" y="405.65" width="1.3" height="1.3"/>
<rect x="419.48" y="405.65" width="1.3" height="1.3"/>
<rect x="424.43" y="405.65" width="1.3" height="1.3"/>
<rect x="434.31" y="405.65" width="1.3" height="1.3"/>
<rect x="439.25" y="405.65" width="1.3" height="1.3"/>
<rect x="459.03" y="405.65" width="1.3" height="1.3"/>
<rect x="463.97" y="405.65" width="1.3" height="1.3"/>
<rect x="468.91" y="405.65" width="1.3" height="1.3"/>
<rect x="473.86" y="405.65" width="1.3" height="1.3"/>
<rect x="478.80" y="405.65" width="1.3" height="1.3"/>
<rect x="483.74" y="405.65" width="1.3" height="1.3"/>
<rect x="488.68" y="405.65" width="1.3" height="1.3"/>
<rect x="493.63" y="405.65" width="1.3" height="1.3"/>
<rect x="498.57" y="405.65" width="1.3" height="1.3"/>
<rect x="503.51" y="405.65" width="1.3" height="1.3"/>
<rect x="508.46" y="405.65" width="1.3" height="1.3"/>
<rect x="513.40" y="405.65" width="1.3" height="1.3"/>
<rect x="518.34" y="405.65" width="1.3" height="1.3"/>
<rect x="523.28" y="405.65" width="1.3" height="1.3"/>
<rect x="528.23" y="405.65" width="1.3" height="1.3"/>
<rect x="300.85" y="410.02" width="1.3" height="1.3"/>
<rect x="310.74" y="410.02" width="1.3" height="1.3"/>
<rect x="315.68" y="410.02" width="1.3" height="1.3"/>
<rect x="320.62" y="410.02" width="1.3" height="1.3"/>
<rect x="325.56" y="410.02" width="1.3" height="1.3"/>
<rect x="330.51" y="410.02" width="1.3" height="1.3"/>
<rect x="335.45" y="410.02" width="1.3" height="1.3"/>
<rect x="340.39" y="410.02" width="1.3" height="1.3"/>
<rect x="345.34" y="410.02" width="1.3" height="1.3"/>
<rect x="350.28" y="410.02" width="1.3" height="1.3"/>
<rect x="360.17" y="410.02" width="1.3" height="1.3"/>
<rect x="365.11" y="410.02" width="1.3" height="1.3"/>
<rect x="370.05" y="410.02" width="1.3" height="1.3"/>
<rect x="375.00" y="410.02" width="1.3" height="1.3"/>
<rect x="379.94" y="410.02" width="1.3" height="1.3"/>
<rect x="389.82" y="410.02" width="1.3" height="1.3"/>
<rect x="394.77" y="410.02" width="1.3" height="1.3"/>
<rect x="399.71" y="410.02" width="1.3" height="1.3"/>
<rect x="404.65" y="410.02" width="1.3" height="1.3"/>
<rect x="409.60" y="410.02" width="1.3" height="1.3"/>
<rect x="414.54" y="410.02" width="1.3" height="1.3"/>
<rect x="419.48" y="410.02" width="1.3" height="1.3"/>
<rect x="424.43" y="410.02" width="1.3" height="1.3"/>
<rect x="429.37" y="410.02" width="1.3" height="1.3"/>
<rect x="434.31" y="410.02" width="1.3" height="1.3"/>
<rect x="439.25" y="410.02" width="1.3" height="1.3"/>
<rect x="444.20" y="410.02" width="1.3" height="1.3"/>
<rect x="449.14" y="410.02" width="1.3" height="1.3"/>
<rect x="454.08" y="410.02" width="1.3" height="1.3"/>
<rect x="473.86" y="410.02" width="1.3" height="1.3"/>
<rect x="478.80" y="410.02" width="1.3" height="1.3"/>
<rect x="483.74" y="410.02" width="1.3" height="1.3"/>
<rect x="488.68" y="410.02" width="1.3" height="1.3"/>
<rect x="493.63" y="410.02" width="1.3" height="1.3"/>
<rect x="498.57" y="410.02" width="1.3" height="1.3"/>
<rect x="503.51" y="410.02" width="1.3" height="1.3"/>
<rect x="508.46" y="410.02" width="1.3" height="1.3"/>
<rect x="513.40" y="410.02" width="1.3" height="1.3"/>
<rect x="518.34" y="410.02" width="1.3" height="1.3"/>
<rect x="523.28" y="410.02" width="1.3" height="1.3"/>
<rect x="528.23" y="410.02" width="1.3" height="1.3"/>
<rect x="305.79" y="414.39" width="1.3" height="1.3"/>
<rect x="315.68" y="414.39" width="1.3" height="1.3"/>
<rect x="320.62" y="414.39" width="1.3" height="1.3"/>
<rect x="325.56" y="414.39" width="1.3" height="1.3"/>
<rect x="330.51" y="414.39" width="1.3" height="1.3"/>
<rect x="335.45" y="414.39" width="1.3" height="1.3"/>
<rect x="345.34" y="414.39" width="1.3" height="1.3"/>
<rect x="350.28" y="414.39" width="1.3" height="1.3"/>
<rect x="355.22" y="414.39" width="1.3" height="1.3"/>
<rect x="365.11" y="414.39" width="1.3" height="1.3"/>
<rect x="370.05" y="414.39" width="1.3" height="1.3"/>
<rect x="375.00" y="414.39" width="1.3" height="1.3"/>
<rect x="379.94" y="414.39" width="1.3" height="1.3"/>
<rect x="384.88" y="414.39" width="1.3" height="1.3"/>
<rect x="389.82" y="414.39" width="1.3" height="1.3"/>
<rect x="394.77" y="414.39" width="1.3" height="1.3"/>
<rect x="399.71" y="414.39" width="1.3" height="1.3"/>
<rect x="404.65" y="414.39" width="1.3" height="1.3"/>
<rect x="409.60" y="414.39" width="1.3" height="1.3"/>
<rect x="414.54" y="414.39" width="1.3" height="1.3"/>
<rect x="419.48" y="414.39" width="1.3" height="1.3"/>
<rect x="424.43" y="414.39" width="1.3" height="1.3"/>
<rect x="429.37" y="414.39" width="1.3" height="1.3"/>
<rect x="434.31" y="414.39" width="1.3" height="1.3"/>
<rect x="439.25" y="414.39" width="1.3" height="1.3"/>
<rect x="444.20" y="414.39" width="1.3" height="1.3"/>
<rect x="449.14" y="414.39" width="1.3" height="1.3"/>
<rect x="454.08" y="414.39" width="1.3" height="1.3"/>
<rect x="463.97" y="414.39" width="1.3" height="1.3"/>
<rect x="468.91" y="414.39" width="1.3" height="1.3"/>
<rect x="478.80" y="414.39" width="1.3" height="1.3"/>
<rect x="483.74" y="414.39" width="1.3" height="1.3"/>
<rect x="488.68" y="414.39" width="1.3" height="1.3"/>
<rect x="493.63" y="414.39" width="1.3" height="1.3"/>
<rect x="498.57" y="414.39" width="1.3" height="1.3"/>
<rect x="503.51" y="414.39" width="1.3" height="1.3"/>
<rect x="508.46" y="414.39" width="1.3" height="1.3"/>
<rect x="513.40" y="414.39" width="1.3" height="1.3"/>
<rect x="518.34" y="414.39" width="1.3" height="1.3"/>
<rect x="523.28" y="414.39" width="1.3" height="1.3"/>
<rect x="528.23" y="414.39" width="1.3" height="1.3"/>
<rect x="300.85" y="418.75" width="1.3" height="1.3"/>
<rect x="305.79" y="418.75" width="1.3" height="1.3"/>
<rect x="310.74" y="418.75" width="1.3" height="1.3"/>
<rect x="315.68" y="418.75" width="1.3" height="1.3"/>
<rect x="320.62" y="418.75" width="1.3" height="1.3"/>
<rect x="325.56" y="418.75" width="1.3" height="1.3"/>
<rect x="330.51" y="418.75" width="1.3" height="1.3"/>
<rect x="335.45" y="418.75" width="1.3" height="1.3"/>
<rect x="340.39" y="418.75" width="1.3" height="1.3"/>
<rect x="345.34" y="418.75" width="1.3" height="1.3"/>
<rect x="350.28" y="418.75" width="1.3" height="1.3"/>
<rect x="355.22" y="418.75" width="1.3" height="1.3"/>
<rect x="360.17" y="418.75" width="1.3" height="1.3"/>
<rect x="365.11" y="418.75" width="1.3" height="1.3"/>
<rect x="370.05" y="418.75" width="1.3" height="1.3"/>
<rect x="379.94" y="418.75" width="1.3" height="1.3"/>
<rect x="389.82" y="418.75" width="1.3" height="1.3"/>
<rect x="394.77" y="418.75" width="1.3" height="1.3"/>
<rect x="399.71" y="418.75" width="1.3" height="1.3"/>
<rect x="404.65" y="418.75" width="1.3" height="1.3"/>
<rect x="409.60" y="418.75" width="1.3" height="1.3"/>
<rect x="414.54" y="418.75" width="1.3" height="1.3"/>
<rect x="419.48" y="418.75" width="1.3" height="1.3"/>
<rect x="424.43" y="418.75" width="1.3" height="1.3"/>
<rect x="429.37" y="418.75" width="1.3" height="1.3"/>
<rect x="434.31" y="418.75" width="1.3" height="1.3"/>
<rect x="439.25" y="418.75" width="1.3" height="1.3"/>
<rect x="449.14" y="418.75" width="1.3" height="1.3"/>
<rect x="454.08" y="418.75" width="1.3" height="1.3"/>
<rect x="459.03" y="418.75" width="1.3" height="1.3"/>
<rect x="468.91" y="418.75" width="1.3" height="1.3"/>
<rect x="473.86" y="418.75" width="1.3" height="1.3"/>
<rect x="483.74" y="418.75" width="1.3" height="1.3"/>
<rect x="488.68" y="418.75" width="1.3" height="1.3"/>
<rect x="493.63" y="418.75" width="1.3" height="1.3"/>
<rect x="498.57" y="418.75" width="1.3" height="1.3"/>
<rect x="503.51" y="418.75" width="1.3" height="1.3"/>
<rect x="508.46" y="418.75" width="1.3" height="1.3"/>
<rect x="513.40" y="418.75" width="1.3" height="1.3"/>
<rect x="518.34" y="418.75" width="1.3" height="1.3"/>
<rect x="523.28" y="418.75" width="1.3" height="1.3"/>
<rect x="528.23" y="418.75" width="1.3" height="1.3"/>
<rect x="300.85" y="423.12" width="1.3" height="1.3"/>
<rect x="305.79" y="423.12" width="1.3" height="1.3"/>
<rect x="310.74" y="423.12" width="1.3" height="1.3"/>
<rect x="315.68" y="423.12" width="1.3" height="1.3"/>
<rect x="320.62" y="423.12" width="1.3" height="1.3"/>
<rect x="325.56" y="423.12" width="1.3" height="1.3"/>
<rect x="330.51" y="423.12" width="1.3" height="1.3"/>
<rect x="335.45" y="423.12" width="1.3" height="1.3"/>
<rect x="340.39" y="423.12" width="1.3" height="1.3"/>
<rect x="345.34" y="423.12" width="1.3" height="1.3"/>
<rect x="350.28" y="423.12" width="1.3" height="1.3"/>
<rect x="355.22" y="423.12" width="1.3" height="1.3"/>
<rect x="360.17" y="423.12" width="1.3" height="1.3"/>
<rect x="365.11" y="423.12" width="1.3" height="1.3"/>
<rect x="370.05" y="423.12" width="1.3" height="1.3"/>
<rect x="379.94" y="423.12" width="1.3" height="1.3"/>
<rect x="384.88" y="423.12" width="1.3" height="1.3"/>
<rect x="389.82" y="423.12" width="1.3" height="1.3"/>
<rect x="394.77" y="423.12" width="1.3" height="1.3"/>
<rect x="399.71" y="423.12" width="1.3" height="1.3"/>
<rect x="404.65" y="423.12" width="1.3" height="1.3"/>
<rect x="409.60" y="423.12" width="1.3" height="1.3"/>
<rect x="414.54" y="423.12" width="1.3" height="1.3"/>
<rect x="419.48" y="423.12" width="1.3" height="1.3"/>
<rect x="429.37" y="423.12" width="1.3" height="1.3"/>
<rect x="434.31" y="423.12" width="1.3" height="1.3"/>
<rect x="439.25" y="423.12" width="1.3" height="1.3"/>
<rect x="444.20" y="423.12" width="1.3" height="1.3"/>
<rect x="449.14" y="423.12" width="1.3" height="1.3"/>
<rect x="454.08" y="423.12" width="1.3" height="1.3"/>
<rect x="463.97" y="423.12" width="1.3" height="1.3"/>
<rect x="468.91" y="423.12" width="1.3" height="1.3"/>
<rect x="473.86" y="423.12" width="1.3" height="1.3"/>
<rect x="478.80" y="423.12" width="1.3" height="1.3"/>
<rect x="488.68" y="423.12" width="1.3" height="1.3"/>
<rect x="493.63" y="423.12" width="1.3" height="1.3"/>
<rect x="498.57" y="423.12" width="1.3" height="1.3"/>
<rect x="503.51" y="423.12" width="1.3" height="1.3"/>
<rect x="508.46" y="423.12" width="1.3" height="1.3"/>
<rect x="513.40" y="423.12" width="1.3" height="1.3"/>
<rect x="518.34" y="423.12" width="1.3" height="1.3"/>
<rect x="523.28" y="423.12" width="1.3" height="1.3"/>
<rect x="528.23" y="423.12" width="1.3" height="1.3"/>
<rect x="300.85" y="427.49" width="1.3" height="1.3"/>
<rect x="305.79" y="427.49" width="1.3" height="1.3"/>
<rect x="310.74" y="427.49" width="1.3" height="1.3"/>
<rect x="315.68" y="427.49" width="1.3" height="1.3"/>
<rect x="320.62" y="427.49" width="1.3" height="1.3"/>
<rect x="325.56" y="427.49" width="1.3" height="1.3"/>
<rect x="330.51" y="427.49" width="1.3" height="1.3"/>
<rect x="335.45" y="427.49" width="1.3" height="1.3"/>
<rect x="340.39" y="427.49" width="1.3" height="1.3"/>
<rect x="345.34" y="427.49" width="1.3" height="1.3"/>
<rect x="350.28" y="427.49" width="1.3" height="1.3"/>
<rect x="355.22" y="427.49" width="1.3" height="1.3"/>
<rect x="360.17" y="427.49" width="1.3" height="1.3"/>
<rect x="365.11" y="427.49" width="1.3" height="1.3"/>
<rect x="370.05" y="427.49" width="1.3" height="1.3"/>
<rect x="375.00" y="427.49" width="1.3" height="1.3"/>
<rect x="379.94" y="427.49" width="1.3" height="1.3"/>
<rect x="384.88" y="427.49" width="1.3" height="1.3"/>
<rect x="389.82" y="427.49" width="1.3" height="1.3"/>
<rect x="394.77" y="427.49" width="1.3" height="1.3"/>
<rect x="399.71" y="427.49" width="1.3" height="1.3"/>
<rect x="404.65" y="427.49" width="1.3" height="1.3"/>
<rect x="409.60" y="427.49" width="1.3" height="1.3"/>
<rect x="414.54" y="427.49" width="1.3" height="1.3"/>
<rect x="419.48" y="427.49" width="1.3" height="1.3"/>
<rect x="424.43" y="427.49" width="1.3" height="1.3"/>
<rect x="429.37" y="427.49" width="1.3" height="1.3"/>
<rect x="439.25" y="427.49" width="1.3" height="1.3"/>
<rect x="444.20" y="427.49" width="1.3" height="1.3"/>
<rect x="449.14" y="427.49" width="1.3" height="1.3"/>
<rect x="454.08" y="427.49" width="1.3" height="1.3"/>
<rect x="459.03" y="427.49" width="1.3" height="1.3"/>
<rect x="463.97" y="427.49" width="1.3" height="1.3"/>
<rect x="468.91" y="427.49" width="1.3" height="1.3"/>
<rect x="473.86" y="427.49" width="1.3" height="1.3"/>
<rect x="483.74" y="427.49" width="1.3" height="1.3"/>
<rect x="498.57" y="427.49" width="1.3" height="1.3"/>
<rect x="503.51" y="427.49" width="1.3" height="1.3"/>
<rect x="508.46" y="427.49" width="1.3" height="1.3"/>
<rect x="513.40" y="427.49" width="1.3" height="1.3"/>
<rect x="518.34" y="427.49" width="1.3" height="1.3"/>
<rect x="523.28" y="427.49" width="1.3" height="1.3"/>
<rect x="528.23" y="427.49" width="1.3" height="1.3"/>
<rect x="300.85" y="431.85" width="1.3" height="1.3"/>
<rect x="305.79" y="431.85" width="1.3" height="1.3"/>
<rect x="310.74" y="431.85" width="1.3" height="1.3"/>
<rect x="320.62" y="431.85" width="1.3" height="1.3"/>
<rect x="325.56" y="431.85" width="1.3" height="1.3"/>
<rect x="330.51" y="431.85" width="1.3" height="1.3"/>
<rect x="335.45" y="431.85" width="1.3" height="1.3"/>
<rect x="340.39" y="431.85" width="1.3" height="1.3"/>
<rect x="345.34" y="431.85" width="1.3" height="1.3"/>
<rect x="350.28" y="431.85" width="1.3" height="1.3"/>
<rect x="355.22" y="431.85" width="1.3" height="1.3"/>
<rect x="360.17" y="431.85" width="1.3" height="1.3"/>
<rect x="365.11" y="431.85" width="1.3" height="1.3"/>
<rect x="370.05" y="431.85" width="1.3" height="1.3"/>
<rect x="375.00" y="431.85" width="1.3" height="1.3"/>
<rect x="379.94" y="431.85" width="1.3" height="1.3"/>
<rect x="384.88" y="431.85" width="1.3" height="1.3"/>
<rect x="389.82" y="431.85" width="1.3" height="1.3"/>
<rect x="394.77" y="431.85" width="1.3" height="1.3"/>
<rect x="399.71" y="431.85" width="1.3" height="1.3"/>
<rect x="404.65" y="431.85" width="1.3" height="1.3"/>
<rect x="409.60" y="431.85" width="1.3" height="1.3"/>
<rect x="414.54" y="431.85" width="1.3" height="1.3"/>
<rect x="419.48" y="431.85" width="1.3" height="1.3"/>
<rect x="424.43" y="431.85" width="1.3" height="1.3"/>
<rect x="429.37" y="431.85" width="1.3" height="1.3"/>
<rect x="439.25" y="431.85" width="1.3" height="1.3"/>
<rect x="444.20" y="431.85" width="1.3" height="1.3"/>
<rect x="449.14" y="431.85" width="1.3" height="1.3"/>
<rect x="454.08" y="431.85" width="1.3" height="1.3"/>
<rect x="459.03" y="431.85" width="1.3" height="1.3"/>
<rect x="463.97" y="431.85" width="1.3" height="1.3"/>
<rect x="468.91" y="431.85" width="1.3" height="1.3"/>
<rect x="473.86" y="431.85" width="1.3" height="1.3"/>
<rect x="478.80" y="431.85" width="1.3" height="1.3"/>
<rect x="488.68" y="431.85" width="1.3" height="1.3"/>
<rect x="493.63" y="431.85" width="1.3" height="1.3"/>
<rect x="503.51" y="431.85" width="1.3" height="1.3"/>
<rect x="508.46" y="431.85" width="1.3" height="1.3"/>
<rect x="513.40" y="431.85" width="1.3" height="1.3"/>
<rect x="518.34" y="431.85" width="1.3" height="1.3"/>
<rect x="523.28" y="431.85" width="1.3" height="1.3"/>
<rect x="528.23" y="431.85" width="1.3" height="1.3"/>
<rect x="300.85" y="436.22" width="1.3" height="1.3"/>
<rect x="305.79" y="436.22" width="1.3" height="1.3"/>
<rect x="310.74" y="436.22" width="1.3" height="1.3"/>
<rect x="315.68" y="436.22" width="1.3" height="1.3"/>
<rect x="320.62" y="436.22" width="1.3" height="1.3"/>
<rect x="325.56" y="436.22" width="1.3" height="1.3"/>
<rect x="330.51" y="436.22" width="1.3" height="1.3"/>
<rect x="335.45" y="436.22" width="1.3" height="1.3"/>
<rect x="340.39" y="436.22" width="1.3" height="1.3"/>
<rect x="345.34" y="436.22" width="1.3" height="1.3"/>
<rect x="350.28" y="436.22" width="1.3" height="1.3"/>
<rect x="355.22" y="436.22" width="1.3" height="1.3"/>
<rect x="360.17" y="436.22" width="1.3" height="1.3"/>
<rect x="365.11" y="436.22" width="1.3" height="1.3"/>
<rect x="370.05" y="436.22" width="1.3" height="1.3"/>
<rect x="375.00" y="436.22" width="1.3" height="1.3"/>
<rect x="379.94" y="436.22" width="1.3" height="1.3"/>
<rect x="384.88" y="436.22" width="1.3" height="1.3"/>
<rect x="389.82" y="436.22" width="1.3" height="1.3"/>
<rect x="394.77" y="436.22" width="1.3" height="1.3"/>
<rect x="399.71" y="436.22" width="1.3" height="1.3"/>
<rect x="409.60" y="436.22" width="1.3" height="1.3"/>
<rect x="414.54" y="436.22" width="1.3" height="1.3"/>
<rect x="419.48" y="436.22" width="1.3" height="1.3"/>
<rect x="424.43" y="436.22" width="1.3" height="1.3"/>
<rect x="429.37" y="436.22" width="1.3" height="1.3"/>
<rect x="434.31" y="436.22" width="1.3" height="1.3"/>
<rect x="439.25" y="436.22" width="1.3" height="1.3"/>
<rect x="444.20" y="436.22" width="1.3" height="1.3"/>
<rect x="449.14" y="436.22" width="1.3" height="1.3"/>
<rect x="454.08" y="436.22" width="1.3" height="1.3"/>
<rect x="459.03" y="436.22" width="1.3" height="1.3"/>
<rect x="463.97" y="436.22" width="1.3" height="1.3"/>
<rect x="468.91" y="436.22" width="1.3" height="1.3"/>
<rect x="473.86" y="436.22" width="1.3" height="1.3"/>
<rect x="478.80" y="436.22" width="1.3" height="1.3"/>
<rect x="488.68" y="436.22" width="1.3" height="1.3"/>
<rect x="493.63" y="436.22" width="1.3" height="1.3"/>
<rect x="498.57" y="436.22" width="1.3" height="1.3"/>
<rect x="513.40" y="436.22" width="1.3" height="1.3"/>
<rect x="518.34" y="436.22" width="1.3" height="1.3"/>
<rect x="523.28" y="436.22" width="1.3" height="1.3"/>
<rect x="528.23" y="436.22" width="1.3" height="1.3"/>
<rect x="300.85" y="440.59" width="1.3" height="1.3"/>
<rect x="305.79" y="440.59" width="1.3" height="1.3"/>
<rect x="310.74" y="440.59" width="1.3" height="1.3"/>
<rect x="315.68" y="440.59" width="1.3" height="1.3"/>
<rect x="320.62" y="440.59" width="1.3" height="1.3"/>
<rect x="325.56" y="440.59" width="1.3" height="1.3"/>
<rect x="330.51" y="440.59" width="1.3" height="1.3"/>
<rect x="335.45" y="440.59" width="1.3" height="1.3"/>
<rect x="340.39" y="440.59" width="1.3" height="1.3"/>
<rect x="345.34" y="440.59" width="1.3" height="1.3"/>
<rect x="350.28" y="440.59" width="1.3" height="1.3"/>
<rect x="355.22" y="440.59" width="1.3" height="1.3"/>
<rect x="360.17" y="440.59" width="1.3" height="1.3"/>
<rect x="365.11" y="440.59" width="1.3" height="1.3"/>
<rect x="370.05" y="440.59" width="1.3" height="1.3"/>
<rect x="379.94" y="440.59" width="1.3" height="1.3"/>
<rect x="384.88" y="440.59" width="1.3" height="1.3"/>
<rect x="394.77" y="440.59" width="1.3" height="1.3"/>
<rect x="399.71" y="440.59" width="1.3" height="1.3"/>
<rect x="404.65" y="440.59" width="1.3" height="1.3"/>
<rect x="414.54" y="440.59" width="1.3" height="1.3"/>
<rect x="419.48" y="440.59" width="1.3" height="1.3"/>
<rect x="424.43" y="440.59" width="1.3" height="1.3"/>
<rect x="429.37" y="440.59" width="1.3" height="1.3"/>
<rect x="434.31" y="440.59" width="1.3" height="1.3"/>
<rect x="439.25" y="440.59" width="1.3" height="1.3"/>
<rect x="449.14" y="440.59" width="1.3" height="1.3"/>
<rect x="454.08" y="440.59" width="1.3" height="1.3"/>
<rect x="459.03" y="440.59" width="1.3" height="1.3"/>
<rect x="463.97" y="440.59" width="1.3" height="1.3"/>
<rect x="468.91" y="440.59" width="1.3" height="1.3"/>
<rect x="473.86" y="440.59" width="1.3" height="1.3"/>
<rect x="478.80" y="440.59" width="1.3" height="1.3"/>
<rect x="483.74" y="440.59" width="1.3" height="1.3"/>
<rect x="488.68" y="440.59" width="1.3" height="1.3"/>
<rect x="493.63" y="440.59" width="1.3" height="1.3"/>
<rect x="498.57" y="440.59" width="1.3" height="1.3"/>
<rect x="503.51" y="440.59" width="1.3" height="1.3"/>
<rect x="508.46" y="440.59" width="1.3" height="1.3"/>
<rect x="513.40" y="440.59" width="1.3" height="1.3"/>
<rect x="518.34" y="440.59" width="1.3" height="1.3"/>
<rect x="523.28" y="440.59" width="1.3" height="1.3"/>
<rect x="528.23" y="440.59" width="1.3" height="1.3"/>
<rect x="300.85" y="444.96" width="1.3" height="1.3"/>
<rect x="305.79" y="444.96" width="1.3" height="1.3"/>
<rect x="310.74" y="444.96" width="1.3" height="1.3"/>
<rect x="315.68" y="444.96" width="1.3" height="1.3"/>
<rect x="320.62" y="444.96" width="1.3" height="1.3"/>
<rect x="325.56" y="444.96" width="1.3" height="1.3"/>
<rect x="330.51" y="444.96" width="1.3" height="1.3"/>
<rect x="335.45" y="444.96" width="1.3" height="1.3"/>
<rect x="345.34" y="444.96" width="1.3" height="1.3"/>
<rect x="350.28" y="444.96" width="1.3" height="1.3"/>
<rect x="355.22" y="444.96" width="1.3" height="1.3"/>
<rect x="360.17" y="444.96" width="1.3" height="1.3"/>
<rect x="370.05" y="444.96" width="1.3" height="1.3"/>
<rect x="375.00" y="444.96" width="1.3" height="1.3"/>
<rect x="379.94" y="444.96" width="1.3" height="1.3"/>
<rect x="384.88" y="444.96" width="1.3" height="1.3"/>
<rect x="389.82" y="444.96" width="1.3" height="1.3"/>
<rect x="394.77" y="444.96" width="1.3" height="1.3"/>
<rect x="399.71" y="444.96" width="1.3" height="1.3"/>
<rect x="404.65" y="444.96" width="1.3" height="1.3"/>
<rect x="409.60" y="444.96" width="1.3" height="1.3"/>
<rect x="414.54" y="444.96" width="1.3" height="1.3"/>
<rect x="419.48" y="444.96" width="1.3" height="1.3"/>
<rect x="429.37" y="444.96" width="1.3" height="1.3"/>
<rect x="434.31" y="444.96" width="1.3" height="1.3"/>
<rect x="439.25" y="444.96" width="1.3" height="1.3"/>
<rect x="444.20" y="444.96" width="1.3" height="1.3"/>
<rect x="454.08" y="444.96" width="1.3" height="1.3"/>
<rect x="459.03" y="444.96" width="1.3" height="1.3"/>
<rect x="463.97" y="444.96" width="1.3" height="1.3"/>
<rect x="468.91" y="444.96" width="1.3" height="1.3"/>
<rect x="473.86" y="444.96" width="1.3" height="1.3"/>
<rect x="478.80" y="444.96" width="1.3" height="1.3"/>
<rect x="483.74" y="444.96" width="1.3" height="1.3"/>
<rect x="488.68" y="444.96" width="1.3" height="1.3"/>
<rect x="493.63" y="444.96" width="1.3" height="1.3"/>
<rect x="498.57" y="444.96" width="1.3" height="1.3"/>
<rect x="503.51" y="444.96" width="1.3" height="1.3"/>
<rect x="508.46" y="444.96" width="1.3" height="1.3"/>
<rect x="513.40" y="444.96" width="1.3" height="1.3"/>
<rect x="518.34" y="444.96" width="1.3" height="1.3"/>
<rect x="523.28" y="444.96" width="1.3" height="1.3"/>
<rect x="528.23" y="444.96" width="1.3" height="1.3"/>
<rect x="300.85" y="449.32" width="1.3" height="1.3"/>
<rect x="305.79" y="449.32" width="1.3" height="1.3"/>
<rect x="310.74" y="449.32" width="1.3" height="1.3"/>
<rect x="315.68" y="449.32" width="1.3" height="1.3"/>
<rect x="320.62" y="449.32" width="1.3" height="1.3"/>
<rect x="325.56" y="449.32" width="1.3" height="1.3"/>
<rect x="330.51" y="449.32" width="1.3" height="1.3"/>
<rect x="335.45" y="449.32" width="1.3" height="1.3"/>
<rect x="340.39" y="449.32" width="1.3" height="1.3"/>
<rect x="345.34" y="449.32" width="1.3" height="1.3"/>
<rect x="350.28" y="449.32" width="1.3" height="1.3"/>
<rect x="355.22" y="449.32" width="1.3" height="1.3"/>
<rect x="365.11" y="449.32" width="1.3" height="1.3"/>
<rect x="370.05" y="449.32" width="1.3" height="1.3"/>
<rect x="375.00" y="449.32" width="1.3" height="1.3"/>
<rect x="379.94" y="449.32" width="1.3" height="1.3"/>
<rect x="389.82" y="449.32" width="1.3" height="1.3"/>
<rect x="394.77" y="449.32" width="1.3" height="1.3"/>
<rect x="404.65" y="449.32" width="1.3" height="1.3"/>
<rect x="409.60" y="449.32" width="1.3" height="1.3"/>
<rect x="414.54" y="449.32" width="1.3" height="1.3"/>
<rect x="419.48" y="449.32" width="1.3" height="1.3"/>
<rect x="424.43" y="449.32" width="1.3" height="1.3"/>
<rect x="429.37" y="449.32" width="1.3" height="1.3"/>
<rect x="434.31" y="449.32" width="1.3" height="1.3"/>
<rect x="439.25" y="449.32" width="1.3" height="1.3"/>
<rect x="444.20" y="449.32" width="1.3" height="1.3"/>
<rect x="449.14" y="449.32" width="1.3" height="1.3"/>
<rect x="454.08" y="449.32" width="1.3" height="1.3"/>
<rect x="459.03" y="449.32" width="1.3" height="1.3"/>
<rect x="463.97" y="449.32" width="1.3" height="1.3"/>
<rect x="468.91" y="449.32" width="1.3" height="1.3"/>
<rect x="473.86" y="449.32" width="1.3" height="1.3"/>
<rect x="478.80" y="449.32" width="1.3" height="1.3"/>
<rect x="483.74" y="449.32" width="1.3" height="1.3"/>
<rect x="488.68" y="449.32" width="1.3" height="1.3"/>
<rect x="493.63" y="449.32" width="1.3" height="1.3"/>
<rect x="498.57" y="449.32" width="1.3" height="1.3"/>
<rect x="503.51" y="449.32" width="1.3" height="1.3"/>
<rect x="508.46" y="449.32" width="1.3" height="1.3"/>
<rect x="518.34" y="449.32" width="1.3" height="1.3"/>
<rect x="523.28" y="449.32" width="1.3" height="1.3"/>
<rect x="528.23" y="449.32" width="1.3" height="1.3"/>
<rect x="300.85" y="453.69" width="1.3" height="1.3"/>
<rect x="305.79" y="453.69" width="1.3" height="1.3"/>
<rect x="310.74" y="453.69" width="1.3" height="1.3"/>
<rect x="315.68" y="453.69" width="1.3" height="1.3"/>
<rect x="320.62" y="453.69" width="1.3" height="1.3"/>
<rect x="325.56" y="453.69" width="1.3" height="1.3"/>
<rect x="330.51" y="453.69" width="1.3" height="1.3"/>
<rect x="335.45" y="453.69" width="1.3" height="1.3"/>
<rect x="340.39" y="453.69" width="1.3" height="1.3"/>
<rect x="345.34" y="453.69" width="1.3" height="1.3"/>
<rect x="350.28" y="453.69" width="1.3" height="1.3"/>
<rect x="355.22" y="453.69" width="1.3" height="1.3"/>
<rect x="360.17" y="453.69" width="1.3" height="1.3"/>
<rect x="365.11" y="453.69" width="1.3" height="1.3"/>
<rect x="370.05" y="453.69" width="1.3" height="1.3"/>
<rect x="375.00" y="453.69" width="1.3" height="1.3"/>
<rect x="379.94" y="453.69" width="1.3" height="1.3"/>
<rect x="384.88" y="453.69" width="1.3" height="1.3"/>
<rect x="389.82" y="453.69" width="1.3" height="1.3"/>
<rect x="394.77" y="453.69" width="1.3" height="1.3"/>
<rect x="399.71" y="453.69" width="1.3" height="1.3"/>
<rect x="404.65" y="453.69" width="1.3" height="1.3"/>
<rect x="409.60" y="453.69" width="1.3" height="1.3"/>
<rect x="414.54" y="453.69" width="1.3" height="1.3"/>
<rect x="419.48" y="453.69" width="1.3" height="1.3"/>
<rect x="429.37" y="453.69" width="1.3" height="1.3"/>
<rect x="434.31" y="453.69" width="1.3" height="1.3"/>
<rect x="439.25" y="453.69" width="1.3" height="1.3"/>
<rect x="444.20" y="453.69" width="1.3" height="1.3"/>
<rect x="449.14" y="453.69" width="1.3" height="1.3"/>
<rect x="454.08" y="453.69" width="1.3" height="1.3"/>
<rect x="459.03" y="453.69" width="1.3" height="1.3"/>
<rect x="463.97" y="453.69" width="1.3" height="1.3"/>
<rect x="468.91" y="453.69" width="1.3" height="1.3"/>
<rect x="473.86" y="453.69" width="1.3" height="1.3"/>
<rect x="478.80" y="453.69" width="1.3" height="1.3"/>
<rect x="483.74" y="453.69" width="1.3" height="1.3"/>
<rect x="488.68" y="453.69" width="1.3" height="1.3"/>
<rect x="493.63" y="453.69" width="1.3" height="1.3"/>
<rect x="498.57" y="453.69" width="1.3" height="1.3"/>
<rect x="503.51" y="453.69" width="1.3" height="1.3"/>
<rect x="508.46" y="453.69" width="1.3" height="1.3"/>
<rect x="513.40" y="453.69" width="1.3" height="1.3"/>
<rect x="528.23" y="453.69" width="1.3" height="1.3"/>
<rect x="300.85" y="458.06" width="1.3" height="1.3"/>
<rect x="305.79" y="458.06" width="1.3" height="1.3"/>
<rect x="310.74" y="458.06" width="1.3" height="1.3"/>
<rect x="315.68" y="458.06" width="1.3" height="1.3"/>
<rect x="320.62" y="458.06" width="1.3" height="1.3"/>
<rect x="325.56" y="458.06" width="1.3" height="1.3"/>
<rect x="330.51" y="458.06" width="1.3" height="1.3"/>
<rect x="335.45" y="458.06" width="1.3" height="1.3"/>
<rect x="340.39" y="458.06" width="1.3" height="1.3"/>
<rect x="345.34" y="458.06" width="1.3" height="1.3"/>
<rect x="350.28" y="458.06" width="1.3" height="1.3"/>
<rect x="355.22" y="458.06" width="1.3" height="1.3"/>
<rect x="360.17" y="458.06" width="1.3" height="1.3"/>
<rect x="365.11" y="458.06" width="1.3" height="1.3"/>
<rect x="370.05" y="458.06" width="1.3" height="1.3"/>
<rect x="375.00" y="458.06" width="1.3" height="1.3"/>
<rect x="379.94" y="458.06" width="1.3" height="1.3"/>
<rect x="384.88" y="458.06" width="1.3" height="1.3"/>
<rect x="389.82" y="458.06" width="1.3" height="1.3"/>
<rect x="394.77" y="458.06" width="1.3" height="1.3"/>
<rect x="399.71" y="458.06" width="1.3" height="1.3"/>
<rect x="404.65" y="458.06" width="1.3" height="1.3"/>
<rect x="409.60" y="458.06" width="1.3" height="1.3"/>
<rect x="414.54" y="458.06" width="1.3" height="1.3"/>
<rect x="419.48" y="458.06" width="1.3" height="1.3"/>
<rect x="424.43" y="458.06" width="1.3" height="1.3"/>
<rect x="429.37" y="458.06" width="1.3" height="1.3"/>
<rect x="434.31" y="458.06" width="1.3" height="1.3"/>
<rect x="439.25" y="458.06" width="1.3" height="1.3"/>
<rect x="444.20" y="458.06" width="1.3" height="1.3"/>
<rect x="449.14" y="458.06" width="1.3" height="1.3"/>
<rect x="454.08" y="458.06" width="1.3" height="1.3"/>
<rect x="459.03" y="458.06" width="1.3" height="1.3"/>
<rect x="473.86" y="458.06" width="1.3" height="1.3"/>
<rect x="478.80" y="458.06" width="1.3" height="1.3"/>
<rect x="488.68" y="458.06" width="1.3" height="1.3"/>
<rect x="493.63" y="458.06" width="1.3" height="1.3"/>
<rect x="498.57" y="458.06" width="1.3" height="1.3"/>
<rect x="503.51" y="458.06" width="1.3" height="1.3"/>
<rect x="508.46" y="458.06" width="1.3" height="1.3"/>
<rect x="513.40" y="458.06" width="1.3" height="1.3"/>
<rect x="518.34" y="458.06" width="1.3" height="1.3"/>
<rect x="523.28" y="458.06" width="1.3" height="1.3"/>
<rect x="528.23" y="458.06" width="1.3" height="1.3"/>
<rect x="300.85" y="462.42" width="1.3" height="1.3"/>
<rect x="305.79" y="462.42" width="1.3" height="1.3"/>
<rect x="310.74" y="462.42" width="1.3" height="1.3"/>
<rect x="315.68" y="462.42" width="1.3" height="1.3"/>
<rect x="320.62" y="462.42" width="1.3" height="1.3"/>
<rect x="325.56" y="462.42" width="1.3" height="1.3"/>
<rect x="330.51" y="462.42" width="1.3" height="1.3"/>
<rect x="335.45" y="462.42" width="1.3" height="1.3"/>
<rect x="340.39" y="462.42" width="1.3" height="1.3"/>
<rect x="345.34" y="462.42" width="1.3" height="1.3"/>
<rect x="350.28" y="462.42" width="1.3" height="1.3"/>
<rect x="355.22" y="462.42" width="1.3" height="1.3"/>
<rect x="360.17" y="462.42" width="1.3" height="1.3"/>
<rect x="365.11" y="462.42" width="1.3" height="1.3"/>
<rect x="370.05" y="462.42" width="1.3" height="1.3"/>
<rect x="375.00" y="462.42" width="1.3" height="1.3"/>
<rect x="379.94" y="462.42" width="1.3" height="1.3"/>
<rect x="384.88" y="462.42" width="1.3" height="1.3"/>
<rect x="389.82" y="462.42" width="1.3" height="1.3"/>
<rect x="399.71" y="462.42" width="1.3" height="1.3"/>
<rect x="404.65" y="462.42" width="1.3" height="1.3"/>
<rect x="409.60" y="462.42" width="1.3" height="1.3"/>
<rect x="414.54" y="462.42" width="1.3" height="1.3"/>
<rect x="419.48" y="462.42" width="1.3" height="1.3"/>
<rect x="424.43" y="462.42" width="1.3" height="1.3"/>
<rect x="429.37" y="462.42" width="1.3" height="1.3"/>
<rect x="434.31" y="462.42" width="1.3" height="1.3"/>
<rect x="439.25" y="462.42" width="1.3" height="1.3"/>
<rect x="444.20" y="462.42" width="1.3" height="1.3"/>
<rect x="449.14" y="462.42" width="1.3" height="1.3"/>
<rect x="454.08" y="462.42" width="1.3" height="1.3"/>
<rect x="459.03" y="462.42" width="1.3" height="1.3"/>
<rect x="468.91" y="462.42" width="1.3" height="1.3"/>
<rect x="473.86" y="462.42" width="1.3" height="1.3"/>
<rect x="478.80" y="462.42" width="1.3" height="1.3"/>
<rect x="483.74" y="462.42" width="1.3" height="1.3"/>
<rect x="488.68" y="462.42" width="1.3" height="1.3"/>
<rect x="493.63" y="462.42" width="1.3" height="1.3"/>
<rect x="498.57" y="462.42" width="1.3" height="1.3"/>
<rect x="503.51" y="462.42" width="1.3" height="1.3"/>
<rect x="508.46" y="462.42" width="1.3" height="1.3"/>
<rect x="513.40" y="462.42" width="1.3" height="1.3"/>
<rect x="518.34" y="462.42" width="1.3" height="1.3"/>
<rect x="523.28" y="462.42" width="1.3" height="1.3"/>
<rect x="528.23" y="462.42" width="1.3" height="1.3"/>
<rect x="300.85" y="466.79" width="1.3" height="1.3"/>
<rect x="310.74" y="466.79" width="1.3" height="1.3"/>
<rect x="315.68" y="466.79" width="1.3" height="1.3"/>
<rect x="320.62" y="466.79" width="1.3" height="1.3"/>
<rect x="325.56" y="466.79" width="1.3" height="1.3"/>
<rect x="330.51" y="466.79" width="1.3" height="1.3"/>
<rect x="335.45" y="466.79" width="1.3" height="1.3"/>
<rect x="340.39" y="466.79" width="1.3" height="1.3"/>
<rect x="350.28" y="466.79" width="1.3" height="1.3"/>
<rect x="355.22" y="466.79" width="1.3" height="1.3"/>
<rect x="360.17" y="466.79" width="1.3" height="1.3"/>
<rect x="365.11" y="466.79" width="1.3" height="1.3"/>
<rect x="370.05" y="466.79" width="1.3" height="1.3"/>
<rect x="375.00" y="466.79" width="1.3" height="1.3"/>
<rect x="379.94" y="466.79" width="1.3" height="1.3"/>
<rect x="384.88" y="466.79" width="1.3" height="1.3"/>
<rect x="389.82" y="466.79" width="1.3" height="1.3"/>
<rect x="394.77" y="466.79" width="1.3" height="1.3"/>
<rect x="399.71" y="466.79" width="1.3" height="1.3"/>
<rect x="404.65" y="466.79" width="1.3" height="1.3"/>
<rect x="409.60" y="466.79" width="1.3" height="1.3"/>
<rect x="414.54" y="466.79" width="1.3" height="1.3"/>
<rect x="419.48" y="466.79" width="1.3" height="1.3"/>
<rect x="424.43" y="466.79" width="1.3" height="1.3"/>
<rect x="429.37" y="466.79" width="1.3" height="1.3"/>
<rect x="434.31" y="466.79" width="1.3" height="1.3"/>
<rect x="439.25" y="466.79" width="1.3" height="1.3"/>
<rect x="444.20" y="466.79" width="1.3" height="1.3"/>
<rect x="449.14" y="466.79" width="1.3" height="1.3"/>
<rect x="454.08" y="466.79" width="1.3" height="1.3"/>
<rect x="459.03" y="466.79" width="1.3" height="1.3"/>
<rect x="463.97" y="466.79" width="1.3" height="1.3"/>
<rect x="468.91" y="466.79" width="1.3" height="1.3"/>
<rect x="473.86" y="466.79" width="1.3" height="1.3"/>
<rect x="478.80" y="466.79" width="1.3" height="1.3"/>
<rect x="483.74" y="466.79" width="1.3" height="1.3"/>
<rect x="488.68" y="466.79" width="1.3" height="1.3"/>
<rect x="493.63" y="466.79" width="1.3" height="1.3"/>
<rect x="498.57" y="466.79" width="1.3" height="1.3"/>
<rect x="503.51" y="466.79" width="1.3" height="1.3"/>
<rect x="508.46" y="466.79" width="1.3" height="1.3"/>
<rect x="513.40" y="466.79" width="1.3" height="1.3"/>
<rect x="518.34" y="466.79" width="1.3" height="1.3"/>
<rect x="523.28" y="466.79" width="1.3" height="1.3"/>
<rect x="528.23" y="466.79" width="1.3" height="1.3"/>
<rect x="300.85" y="471.16" width="1.3" height="1.3"/>
<rect x="305.79" y="471.16" width="1.3" height="1.3"/>
<rect x="310.74" y="471.16" width="1.3" height="1.3"/>
<rect x="315.68" y="471.16" width="1.3" height="1.3"/>
<rect x="320.62" y="471.16" width="1.3" height="1.3"/>
<rect x="325.56" y="471.16" width="1.3" height="1.3"/>
<rect x="330.51" y="471.16" width="1.3" height="1.3"/>
<rect x="335.45" y="471.16" width="1.3" height="1.3"/>
<rect x="340.39" y="471.16" width="1.3" height="1.3"/>
<rect x="345.34" y="471.16" width="1.3" height="1.3"/>
<rect x="350.28" y="471.16" width="1.3" height="1.3"/>
<rect x="360.17" y="471.16" width="1.3" height="1.3"/>
<rect x="365.11" y="471.16" width="1.3" height="1.3"/>
<rect x="370.05" y="471.16" width="1.3" height="1.3"/>
<rect x="375.00" y="471.16" width="1.3" height="1.3"/>
<rect x="379.94" y="471.16" width="1.3" height="1.3"/>
<rect x="384.88" y="471.16" width="1.3" height="1.3"/>
<rect x="389.82" y="471.16" width="1.3" height="1.3"/>
<rect x="394.77" y="471.16" width="1.3" height="1.3"/>
<rect x="399.71" y="471.16" width="1.3" height="1.3"/>
<rect x="404.65" y="471.16" width="1.3" height="1.3"/>
<rect x="409.60" y="471.16" width="1.3" height="1.3"/>
<rect x="414.54" y="471.16" width="1.3" height="1.3"/>
<rect x="419.48" y="471.16" width="1.3" height="1.3"/>
<rect x="424.43" y="471.16" width="1.3" height="1.3"/>
<rect x="429.37" y="471.16" width="1.3" height="1.3"/>
<rect x="439.25" y="471.16" width="1.3" height="1.3"/>
<rect x="444.20" y="471.16" width="1.3" height="1.3"/>
<rect x="449.14" y="471.16" width="1.3" height="1.3"/>
<rect x="454.08" y="471.16" width="1.3" height="1.3"/>
<rect x="459.03" y="471.16" width="1.3" height="1.3"/>
<rect x="463.97" y="471.16" width="1.3" height="1.3"/>
<rect x="468.91" y="471.16" width="1.3" height="1.3"/>
<rect x="473.86" y="471.16" width="1.3" height="1.3"/>
<rect x="478.80" y="471.16" width="1.3" height="1.3"/>
<rect x="483.74" y="471.16" width="1.3" height="1.3"/>
<rect x="488.68" y="471.16" width="1.3" height="1.3"/>
<rect x="493.63" y="471.16" width="1.3" height="1.3"/>
<rect x="498.57" y="471.16" width="1.3" height="1.3"/>
<rect x="503.51" y="471.16" width="1.3" height="1.3"/>
<rect x="508.46" y="471.16" width="1.3" height="1.3"/>
<rect x="513.40" y="471.16" width="1.3" height="1.3"/>
<rect x="518.34" y="471.16" width="1.3" height="1.3"/>
<rect x="523.28" y="471.16" width="1.3" height="1.3"/>
<rect x="528.23" y="471.16" width="1.3" height="1.3"/>
<rect x="300.85" y="475.52" width="1.3" height="1.3"/>
<rect x="310.74" y="475.52" width="1.3" height="1.3"/>
<rect x="315.68" y="475.52" width="1.3" height="1.3"/>
<rect x="320.62" y="475.52" width="1.3" height="1.3"/>
<rect x="325.56" y="475.52" width="1.3" height="1.3"/>
<rect x="330.51" y="475.52" width="1.3" height="1.3"/>
<rect x="335.45" y="475.52" width="1.3" height="1.3"/>
<rect x="340.39" y="475.52" width="1.3" height="1.3"/>
<rect x="345.34" y="475.52" width="1.3" height="1.3"/>
<rect x="350.28" y="475.52" width="1.3" height="1.3"/>
<rect x="355.22" y="475.52" width="1.3" height="1.3"/>
<rect x="360.17" y="475.52" width="1.3" height="1.3"/>
<rect x="365.11" y="475.52" width="1.3" height="1.3"/>
<rect x="370.05" y="475.52" width="1.3" height="1.3"/>
<rect x="375.00" y="475.52" width="1.3" height="1.3"/>
<rect x="379.94" y="475.52" width="1.3" height="1.3"/>
<rect x="384.88" y="475.52" width="1.3" height="1.3"/>
<rect x="389.82" y="475.52" width="1.3" height="1.3"/>
<rect x="394.77" y="475.52" width="1.3" height="1.3"/>
<rect x="399.71" y="475.52" width="1.3" height="1.3"/>
<rect x="404.65" y="475.52" width="1.3" height="1.3"/>
<rect x="409.60" y="475.52" width="1.3" height="1.3"/>
<rect x="414.54" y="475.52" width="1.3" height="1.3"/>
<rect x="419.48" y="475.52" width="1.3" height="1.3"/>
<rect x="424.43" y="475.52" width="1.3" height="1.3"/>
<rect x="429.37" y="475.52" width="1.3" height="1.3"/>
<rect x="434.31" y="475.52" width="1.3" height="1.3"/>
<rect x="439.25" y="475.52" width="1.3" height="1.3"/>
<rect x="444.20" y="475.52" width="1.3" height="1.3"/>
<rect x="449.14" y="475.52" width="1.3" height="1.3"/>
<rect x="454.08" y="475.52" width="1.3" height="1.3"/>
<rect x="459.03" y="475.52" width="1.3" height="1.3"/>
<rect x="463.97" y="475.52" width="1.3" height="1.3"/>
<rect x="468.91" y="475.52" width="1.3" height="1.3"/>
<rect x="473.86" y="475.52" width="1.3" height="1.3"/>
<rect x="483.74" y="475.52" width="1.3" height="1.3"/>
<rect x="488.68" y="475.52" width="1.3" height="1.3"/>
<rect x="493.63" y="475.52" width="1.3" height="1.3"/>
<rect x="498.57" y="475.52" width="1.3" height="1.3"/>
<rect x="503.51" y="475.52" width="1.3" height="1.3"/>
<rect x="508.46" y="475.52" width="1.3" height="1.3"/>
<rect x="513.40" y="475.52" width="1.3" height="1.3"/>
<rect x="518.34" y="475.52" width="1.3" height="1.3"/>
<rect x="523.28" y="475.52" width="1.3" height="1.3"/>
<rect x="528.23" y="475.52" width="1.3" height="1.3"/>
<rect x="300.85" y="479.89" width="1.3" height="1.3"/>
<rect x="305.79" y="479.89" width="1.3" height="1.3"/>
<rect x="310.74" y="479.89" width="1.3" height="1.3"/>
<rect x="315.68" y="479.89" width="1.3" height="1.3"/>
<rect x="320.62" y="479.89" width="1.3" height="1.3"/>
<rect x="325.56" y="479.89" width="1.3" height="1.3"/>
<rect x="330.51" y="479.89" width="1.3" height="1.3"/>
<rect x="335.45" y="479.89" width="1.3" height="1.3"/>
<rect x="340.39" y="479.89" width="1.3" height="1.3"/>
<rect x="355.22" y="479.89" width="1.3" height="1.3"/>
<rect x="360.17" y="479.89" width="1.3" height="1.3"/>
<rect x="365.11" y="479.89" width="1.3" height="1.3"/>
<rect x="370.05" y="479.89" width="1.3" height="1.3"/>
<rect x="375.00" y="479.89" width="1.3" height="1.3"/>
<rect x="379.94" y="479.89" width="1.3" height="1.3"/>
<rect x="384.88" y="479.89" width="1.3" height="1.3"/>
<rect x="389.82" y="479.89" width="1.3" height="1.3"/>
<rect x="394.77" y="479.89" width="1.3" height="1.3"/>
<rect x="399.71" y="479.89" width="1.3" height="1.3"/>
<rect x="404.65" y="479.89" width="1.3" height="1.3"/>
<rect x="409.60" y="479.89" width="1.3" height="1.3"/>
<rect x="414.54" y="479.89" width="1.3" height="1.3"/>
<rect x="419.48" y="479.89" width="1.3" height="1.3"/>
<rect x="424.43" y="479.89" width="1.3" height="1.3"/>
<rect x="429.37" y="479.89" width="1.3" height="1.3"/>
<rect x="434.31" y="479.89" width="1.3" height="1.3"/>
<rect x="439.25" y="479.89" width="1.3" height="1.3"/>
<rect x="444.20" y="479.89" width="1.3" height="1.3"/>
<rect x="449.14" y="479.89" width="1.3" height="1.3"/>
<rect x="454.08" y="479.89" width="1.3" height="1.3"/>
<rect x="459.03" y="479.89" width="1.3" height="1.3"/>
<rect x="463.97" y="479.89" width="1.3" height="1.3"/>
<rect x="468.91" y="479.89" width="1.3" height="1.3"/>
<rect x="473.86" y="479.89" width="1.3" height="1.3"/>
<rect x="478.80" y="479.89" width="1.3" height="1.3"/>
<rect x="483.74" y="479.89" width="1.3" height="1.3"/>
<rect x="488.68" y="479.89" width="1.3" height="1.3"/>
<rect x="493.63" y="479.89" width="1.3" height="1.3"/>
<rect x="498.57" y="479.89" width="1.3" height="1.3"/>
<rect x="503.51" y="479.89" width="1.3" height="1.3"/>
<rect x="508.46" y="479.89" width="1.3" height="1.3"/>
<rect x="513.40" y="479.89" width="1.3" height="1.3"/>
<rect x="518.34" y="479.89" width="1.3" height="1.3"/>
<rect x="523.28" y="479.89" width="1.3" height="1.3"/>
<rect x="528.23" y="479.89" width="1.3" height="1.3"/>
<rect x="300.85" y="484.26" width="1.3" height="1.3"/>
<rect x="310.74" y="484.26" width="1.3" height="1.3"/>
<rect x="315.68" y="484.26" width="1.3" height="1.3"/>
<rect x="320.62" y="484.26" width="1.3" height="1.3"/>
<rect x="325.56" y="484.26" width="1.3" height="1.3"/>
<rect x="330.51" y="484.26" width="1.3" height="1.3"/>
<rect x="335.45" y="484.26" width="1.3" height="1.3"/>
<rect x="340.39" y="484.26" width="1.3" height="1.3"/>
<rect x="345.34" y="484.26" width="1.3" height="1.3"/>
<rect x="350.28" y="484.26" width="1.3" height="1.3"/>
<rect x="355.22" y="484.26" width="1.3" height="1.3"/>
<rect x="360.17" y="484.26" width="1.3" height="1.3"/>
<rect x="365.11" y="484.26" width="1.3" height="1.3"/>
<rect x="375.00" y="484.26" width="1.3" height="1.3"/>
<rect x="379.94" y="484.26" width="1.3" height="1.3"/>
<rect x="384.88" y="484.26" width="1.3" height="1.3"/>
<rect x="389.82" y="484.26" width="1.3" height="1.3"/>
<rect x="394.77" y="484.26" width="1.3" height="1.3"/>
<rect x="399.71" y="484.26" width="1.3" height="1.3"/>
<rect x="404.65" y="484.26" width="1.3" height="1.3"/>
<rect x="409.60" y="484.26" width="1.3" height="1.3"/>
<rect x="414.54" y="484.26" width="1.3" height="1.3"/>
<rect x="419.48" y="484.26" width="1.3" height="1.3"/>
<rect x="424.43" y="484.26" width="1.3" height="1.3"/>
<rect x="429.37" y="484.26" width="1.3" height="1.3"/>
<rect x="434.31" y="484.26" width="1.3" height="1.3"/>
<rect x="439.25" y="484.26" width="1.3" height="1.3"/>
<rect x="444.20" y="484.26" width="1.3" height="1.3"/>
<rect x="449.14" y="484.26" width="1.3" height="1.3"/>
<rect x="454.08" y="484.26" width="1.3" height="1.3"/>
<rect x="459.03" y="484.26" width="1.3" height="1.3"/>
<rect x="463.97" y="484.26" width="1.3" height="1.3"/>
<rect x="468.91" y="484.26" width="1.3" height="1.3"/>
<rect x="473.86" y="484.26" width="1.3" height="1.3"/>
<rect x="478.80" y="484.26" width="1.3" height="1.3"/>
<rect x="483.74" y="484.26" width="1.3" height="1.3"/>
<rect x="488.68" y="484.26" width="1.3" height="1.3"/>
<rect x="493.63" y="484.26" width="1.3" height="1.3"/>
<rect x="498.57" y="484.26" width="1.3" height="1.3"/>
<rect x="503.51" y="484.26" width="1.3" height="1.3"/>
<rect x="508.46" y="484.26" width="1.3" height="1.3"/>
<rect x="513.40" y="484.26" width="1.3" height="1.3"/>
<rect x="518.34" y="484.26" width="1.3" height="1.3"/>
<rect x="523.28" y="484.26" width="1.3" height="1.3"/>
<rect x="528.23" y="484.26" width="1.3" height="1.3"/>
<rect x="300.85" y="488.63" width="1.3" height="1.3"/>
<rect x="305.79" y="488.63" width="1.3" height="1.3"/>
<rect x="310.74" y="488.63" width="1.3" height="1.3"/>
<rect x="315.68" y="488.63" width="1.3" height="1.3"/>
<rect x="320.62" y="488.63" width="1.3" height="1.3"/>
<rect x="325.56" y="488.63" width="1.3" height="1.3"/>
<rect x="330.51" y="488.63" width="1.3" height="1.3"/>
<rect x="335.45" y="488.63" width="1.3" height="1.3"/>
<rect x="340.39" y="488.63" width="1.3" height="1.3"/>
<rect x="345.34" y="488.63" width="1.3" height="1.3"/>
<rect x="350.28" y="488.63" width="1.3" height="1.3"/>
<rect x="355.22" y="488.63" width="1.3" height="1.3"/>
<rect x="360.17" y="488.63" width="1.3" height="1.3"/>
<rect x="365.11" y="488.63" width="1.3" height="1.3"/>
<rect x="370.05" y="488.63" width="1.3" height="1.3"/>
<rect x="375.00" y="488.63" width="1.3" height="1.3"/>
<rect x="379.94" y="488.63" width="1.3" height="1.3"/>
<rect x="384.88" y="488.63" width="1.3" height="1.3"/>
<rect x="389.82" y="488.63" width="1.3" height="1.3"/>
<rect x="394.77" y="488.63" width="1.3" height="1.3"/>
<rect x="399.71" y="488.63" width="1.3" height="1.3"/>
<rect x="404.65" y="488.63" width="1.3" height="1.3"/>
<rect x="409.60" y="488.63" width="1.3" height="1.3"/>
<rect x="414.54" y="488.63" width="1.3" height="1.3"/>
<rect x="419.48" y="488.63" width="1.3" height="1.3"/>
<rect x="424.43" y="488.63" width="1.3" height="1.3"/>
<rect x="429.37" y="488.63" width="1.3" height="1.3"/>
<rect x="434.31" y="488.63" width="1.3" height="1.3"/>
<rect x="439.25" y="488.63" width="1.3" height="1.3"/>
<rect x="444.20" y="488.63" width="1.3" height="1.3"/>
<rect x="449.14" y="488.63" width="1.3" height="1.3"/>
<rect x="454.08" y="488.63" width="1.3" height="1.3"/>
<rect x="459.03" y="488.63" width="1.3" height="1.3"/>
<rect x="463.97" y="488.63" width="1.3" height="1.3"/>
<rect x="468.91" y="488.63" width="1.3" height="1.3"/>
<rect x="478.80" y="488.63" width="1.3" height="1.3"/>
<rect x="483.74" y="488.63" width="1.3" height="1.3"/>
<rect x="488.68" y="488.63" width="1.3" height="1.3"/>
<rect x="493.63" y="488.63" width="1.3" height="1.3"/>
<rect x="498.57" y="488.63" width="1.3" height="1.3"/>
<rect x="503.51" y="488.63" width="1.3" height="1.3"/>
<rect x="508.46" y="488.63" width="1.3" height="1.3"/>
<rect x="513.40" y="488.63" width="1.3" height="1.3"/>
<rect x="518.34" y="488.63" width="1.3" height="1.3"/>
<rect x="523.28" y="488.63" width="1.3" height="1.3"/>
<rect x="300.85" y="492.99" width="1.3" height="1.3"/>
<rect x="305.79" y="492.99" width="1.3" height="1.3"/>
<rect x="310.74" y="492.99" width="1.3" height="1.3"/>
<rect x="315.68" y="492.99" width="1.3" height="1.3"/>
<rect x="320.62" y="492.99" width="1.3" height="1.3"/>
<rect x="325.56" y="492.99" width="1.3" height="1.3"/>
<rect x="330.51" y="492.99" width="1.3" height="1.3"/>
<rect x="335.45" y="492.99" width="1.3" height="1.3"/>
<rect x="340.39" y="492.99" width="1.3" height="1.3"/>
<rect x="345.34" y="492.99" width="1.3" height="1.3"/>
<rect x="350.28" y="492.99" width="1.3" height="1.3"/>
<rect x="355.22" y="492.99" width="1.3" height="1.3"/>
<rect x="360.17" y="492.99" width="1.3" height="1.3"/>
<rect x="365.11" y="492.99" width="1.3" height="1.3"/>
<rect x="370.05" y="492.99" width="1.3" height="1.3"/>
<rect x="375.00" y="492.99" width="1.3" height="1.3"/>
<rect x="379.94" y="492.99" width="1.3" height="1.3"/>
<rect x="384.88" y="492.99" width="1.3" height="1.3"/>
<rect x="389.82" y="492.99" width="1.3" height="1.3"/>
<rect x="404.65" y="492.99" width="1.3" height="1.3"/>
<rect x="409.60" y="492.99" width="1.3" height="1.3"/>
<rect x="414.54" y="492.99" width="1.3" height="1.3"/>
<rect x="419.48" y="492.99" width="1.3" height="1.3"/>
<rect x="424.43" y="492.99" width="1.3" height="1.3"/>
<rect x="429.37" y="492.99" width="1.3" height="1.3"/>
<rect x="434.31" y="492.99" width="1.3" height="1.3"/>
<rect x="439.25" y="492.99" width="1.3" height="1.3"/>
<rect x="444.20" y="492.99" width="1.3" height="1.3"/>
<rect x="449.14" y="492.99" width="1.3" height="1.3"/>
<rect x="454.08" y="492.99" width="1.3" height="1.3"/>
<rect x="459.03" y="492.99" width="1.3" height="1.3"/>
<rect x="463.97" y="492.99" width="1.3" height="1.3"/>
<rect x="468.91" y="492.99" width="1.3" height="1.3"/>
<rect x="473.86" y="492.99" width="1.3" height="1.3"/>
<rect x="478.80" y="492.99" width="1.3" height="1.3"/>
<rect x="483.74" y="492.99" width="1.3" height="1.3"/>
<rect x="488.68" y="492.99" width="1.3" height="1.3"/>
<rect x="493.63" y="492.99" width="1.3" height="1.3"/>
<rect x="498.57" y="492.99" width="1.3" height="1.3"/>
<rect x="503.51" y="492.99" width="1.3" height="1.3"/>
<rect x="508.46" y="492.99" width="1.3" height="1.3"/>
<rect x="513.40" y="492.99" width="1.3" height="1.3"/>
<rect x="518.34" y="492.99" width="1.3" height="1.3"/>
<rect x="523.28" y="492.99" width="1.3" height="1.3"/>
<rect x="528.23" y="492.99" width="1.3" height="1.3"/>
<rect x="300.85" y="497.36" width="1.3" height="1.3"/>
<rect x="305.79" y="497.36" width="1.3" height="1.3"/>
<rect x="310.74" y="497.36" width="1.3" height="1.3"/>
<rect x="315.68" y="497.36" width="1.3" height="1.3"/>
<rect x="320.62" y="497.36" width="1.3" height="1.3"/>
<rect x="325.56" y="497.36" width="1.3" height="1.3"/>
<rect x="330.51" y="497.36" width="1.3" height="1.3"/>
<rect x="335.45" y="497.36" width="1.3" height="1.3"/>
<rect x="340.39" y="497.36" width="1.3" height="1.3"/>
<rect x="350.28" y="497.36" width="1.3" height="1.3"/>
<rect x="355.22" y="497.36" width="1.3" height="1.3"/>
<rect x="360.17" y="497.36" width="1.3" height="1.3"/>
<rect x="365.11" y="497.36" width="1.3" height="1.3"/>
<rect x="370.05" y="497.36" width="1.3" height="1.3"/>
<rect x="375.00" y="497.36" width="1.3" height="1.3"/>
<rect x="379.94" y="497.36" width="1.3" height="1.3"/>
<rect x="384.88" y="497.36" width="1.3" height="1.3"/>
<rect x="389.82" y="497.36" width="1.3" height="1.3"/>
<rect x="394.77" y="497.36" width="1.3" height="1.3"/>
<rect x="399.71" y="497.36" width="1.3" height="1.3"/>
<rect x="404.65" y="497.36" width="1.3" height="1.3"/>
<rect x="409.60" y="497.36" width="1.3" height="1.3"/>
<rect x="414.54" y="497.36" width="1.3" height="1.3"/>
<rect x="419.48" y="497.36" width="1.3" height="1.3"/>
<rect x="424.43" y="497.36" width="1.3" height="1.3"/>
<rect x="429.37" y="497.36" width="1.3" height="1.3"/>
<rect x="434.31" y="497.36" width="1.3" height="1.3"/>
<rect x="439.25" y="497.36" width="1.3" height="1.3"/>
<rect x="444.20" y="497.36" width="1.3" height="1.3"/>
<rect x="449.14" y="497.36" width="1.3" height="1.3"/>
<rect x="454.08" y="497.36" width="1.3" height="1.3"/>
<rect x="459.03" y="497.36" width="1.3" height="1.3"/>
<rect x="463.97" y="497.36" width="1.3" height="1.3"/>
<rect x="468.91" y="497.36" width="1.3" height="1.3"/>
<rect x="473.86" y="497.36" width="1.3" height="1.3"/>
<rect x="478.80" y="497.36" width="1.3" height="1.3"/>
<rect x="483.74" y="497.36" width="1.3" height="1.3"/>
<rect x="488.68" y="497.36" width="1.3" height="1.3"/>
<rect x="493.63" y="497.36" width="1.3" height="1.3"/>
<rect x="498.57" y="497.36" width="1.3" height="1.3"/>
<rect x="503.51" y="497.36" width="1.3" height="1.3"/>
<rect x="508.46" y="497.36" width="1.3" height="1.3"/>
<rect x="513.40" y="497.36" width="1.3" height="1.3"/>
<rect x="518.34" y="497.36" width="1.3" height="1.3"/>
<rect x="523.28" y="497.36" width="1.3" height="1.3"/>
<rect x="528.23" y="497.36" width="1.3" height="1.3"/>
<rect x="305.79" y="501.73" width="1.3" height="1.3"/>
<rect x="310.74" y="501.73" width="1.3" height="1.3"/>
<rect x="315.68" y="501.73" width="1.3" height="1.3"/>
<rect x="320.62" y="501.73" width="1.3" height="1.3"/>
<rect x="325.56" y="501.73" width="1.3" height="1.3"/>
<rect x="330.51" y="501.73" width="1.3" height="1.3"/>
<rect x="335.45" y="501.73" width="1.3" height="1.3"/>
<rect x="340.39" y="501.73" width="1.3" height="1.3"/>
<rect x="345.34" y="501.73" width="1.3" height="1.3"/>
<rect x="350.28" y="501.73" width="1.3" height="1.3"/>
<rect x="355.22" y="501.73" width="1.3" height="1.3"/>
<rect x="360.17" y="501.73" width="1.3" height="1.3"/>
<rect x="365.11" y="501.73" width="1.3" height="1.3"/>
<rect x="370.05" y="501.73" width="1.3" height="1.3"/>
<rect x="375.00" y="501.73" width="1.3" height="1.3"/>
<rect x="379.94" y="501.73" width="1.3" height="1.3"/>
<rect x="384.88" y="501.73" width="1.3" height="1.3"/>
<rect x="389.82" y="501.73" width="1.3" height="1.3"/>
<rect x="394.77" y="501.73" width="1.3" height="1.3"/>
<rect x="399.71" y="501.73" width="1.3" height="1.3"/>
<rect x="404.65" y="501.73" width="1.3" height="1.3"/>
<rect x="409.60" y="501.73" width="1.3" height="1.3"/>
<rect x="414.54" y="501.73" width="1.3" height="1.3"/>
<rect x="419.48" y="501.73" width="1.3" height="1.3"/>
<rect x="424.43" y="501.73" width="1.3" height="1.3"/>
<rect x="429.37" y="501.73" width="1.3" height="1.3"/>
<rect x="434.31" y="501.73" width="1.3" height="1.3"/>
<rect x="439.25" y="501.73" width="1.3" height="1.3"/>
<rect x="444.20" y="501.73" width="1.3" height="1.3"/>
<rect x="449.14" y="501.73" width="1.3" height="1.3"/>
<rect x="454.08" y="501.73" width="1.3" height="1.3"/>
<rect x="459.03" y="501.73" width="1.3" height="1.3"/>
<rect x="463.97" y="501.73" width="1.3" height="1.3"/>
<rect x="468.91" y="501.73" width="1.3" height="1.3"/>
<rect x="473.86" y="501.73" width="1.3" height="1.3"/>
<rect x="478.80" y="501.73" width="1.3" height="1.3"/>
<rect x="483.74" y="501.73" width="1.3" height="1.3"/>
<rect x="488.68" y="501.73" width="1.3" height="1.3"/>
<rect x="493.63" y="501.73" width="1.3" height="1.3"/>
<rect x="498.57" y="501.73" width="1.3" height="1.3"/>
<rect x="503.51" y="501.73" width="1.3" height="1.3"/>
<rect x="508.46" y="501.73" width="1.3" height="1.3"/>
<rect x="513.40" y="501.73" width="1.3" height="1.3"/>
<rect x="518.34" y="501.73" width="1.3" height="1.3"/>
<rect x="523.28" y="501.73" width="1.3" height="1.3"/>
<rect x="528.23" y="501.73" width="1.3" height="1.3"/>
<rect x="300.85" y="506.09" width="1.3" height="1.3"/>
<rect x="305.79" y="506.09" width="1.3" height="1.3"/>
<rect x="310.74" y="506.09" width="1.3" height="1.3"/>
<rect x="315.68" y="506.09" width="1.3" height="1.3"/>
<rect x="320.62" y="506.09" width="1.3" height="1.3"/>
<rect x="325.56" y="506.09" width="1.3" height="1.3"/>
<rect x="330.51" y="506.09" width="1.3" height="1.3"/>
<rect x="335.45" y="506.09" width="1.3" height="1.3"/>
<rect x="340.39" y="506.09" width="1.3" height="1.3"/>
<rect x="345.34" y="506.09" width="1.3" height="1.3"/>
<rect x="350.28" y="506.09" width="1.3" height="1.3"/>
<rect x="355.22" y="506.09" width="1.3" height="1.3"/>
<rect x="360.17" y="506.09" width="1.3" height="1.3"/>
<rect x="365.11" y="506.09" width="1.3" height="1.3"/>
<rect x="370.05" y="506.09" width="1.3" height="1.3"/>
<rect x="375.00" y="506.09" width="1.3" height="1.3"/>
<rect x="379.94" y="506.09" width="1.3" height="1.3"/>
<rect x="384.88" y="506.09" width="1.3" height="1.3"/>
<rect x="389.82" y="506.09" width="1.3" height="1.3"/>
<rect x="394.77" y="506.09" width="1.3" height="1.3"/>
<rect x="404.65" y="506.09" width="1.3" height="1.3"/>
<rect x="409.60" y="506.09" width="1.3" height="1.3"/>
<rect x="414.54" y="506.09" width="1.3" height="1.3"/>
<rect x="419.48" y="506.09" width="1.3" height="1.3"/>
<rect x="424.43" y="506.09" width="1.3" height="1.3"/>
<rect x="429.37" y="506.09" width="1.3" height="1.3"/>
<rect x="434.31" y="506.09" width="1.3" height="1.3"/>
<rect x="439.25" y="506.09" width="1.3" height="1.3"/>
<rect x="444.20" y="506.09" width="1.3" height="1.3"/>
<rect x="449.14" y="506.09" width="1.3" height="1.3"/>
<rect x="454.08" y="506.09" width="1.3" height="1.3"/>
<rect x="459.03" y="506.09" width="1.3" height="1.3"/>
<rect x="463.97" y="506.09" width="1.3" height="1.3"/>
<rect x="468.91" y="506.09" width="1.3" height="1.3"/>
<rect x="473.86" y="506.09" width="1.3" height="1.3"/>
<rect x="478.80" y="506.09" width="1.3" height="1.3"/>
<rect x="483.74" y="506.09" width="1.3" height="1.3"/>
<rect x="488.68" y="506.09" width="1.3" height="1.3"/>
<rect x="493.63" y="506.09" width="1.3" height="1.3"/>
<rect x="498.57" y="506.09" width="1.3" height="1.3"/>
<rect x="503.51" y="506.09" width="1.3" height="1.3"/>
<rect x="508.46" y="506.09" width="1.3" height="1.3"/>
<rect x="513.40" y="506.09" width="1.3" height="1.3"/>
<rect x="518.34" y="506.09" width="1.3" height="1.3"/>
<rect x="523.28" y="506.09" width="1.3" height="1.3"/>
<rect x="528.23" y="506.09" width="1.3" height="1.3"/>
<rect x="300.85" y="510.46" width="1.3" height="1.3"/>
<rect x="305.79" y="510.46" width="1.3" height="1.3"/>
<rect x="310.74" y="510.46" width="1.3" height="1.3"/>
<rect x="315.68" y="510.46" width="1.3" height="1.3"/>
<rect x="320.62" y="510.46" width="1.3" height="1.3"/>
<rect x="325.56" y="510.46" width="1.3" height="1.3"/>
<rect x="330.51" y="510.46" width="1.3" height="1.3"/>
<rect x="335.45" y="510.46" width="1.3" height="1.3"/>
<rect x="340.39" y="510.46" width="1.3" height="1.3"/>
<rect x="345.34" y="510.46" width="1.3" height="1.3"/>
<rect x="350.28" y="510.46" width="1.3" height="1.3"/>
<rect x="355.22" y="510.46" width="1.3" height="1.3"/>
<rect x="360.17" y="510.46" width="1.3" height="1.3"/>
<rect x="365.11" y="510.46" width="1.3" height="1.3"/>
<rect x="370.05" y="510.46" width="1.3" height="1.3"/>
<rect x="375.00" y="510.46" width="1.3" height="1.3"/>
<rect x="379.94" y="510.46" width="1.3" height="1.3"/>
<rect x="384.88" y="510.46" width="1.3" height="1.3"/>
<rect x="389.82" y="510.46" width="1.3" height="1.3"/>
<rect x="394.77" y="510.46" width="1.3" height="1.3"/>
<rect x="399.71" y="510.46" width="1.3" height="1.3"/>
<rect x="404.65" y="510.46" width="1.3" height="1.3"/>
<rect x="409.60" y="510.46" width="1.3" height="1.3"/>
<rect x="414.54" y="510.46" width="1.3" height="1.3"/>
<rect x="419.48" y="510.46" width="1.3" height="1.3"/>
<rect x="424.43" y="510.46" width="1.3" height="1.3"/>
<rect x="429.37" y="510.46" width="1.3" height="1.3"/>
<rect x="434.31" y="510.46" width="1.3" height="1.3"/>
<rect x="439.25" y="510.46" width="1.3" height="1.3"/>
<rect x="444.20" y="510.46" width="1.3" height="1.3"/>
<rect x="449.14" y="510.46" width="1.3" height="1.3"/>
<rect x="454.08" y="510.46" width="1.3" height="1.3"/>
<rect x="459.03" y="510.46" width="1.3" height="1.3"/>
<rect x="463.97" y="510.46" width="1.3" height="1.3"/>
<rect x="468.91" y="510.46" width="1.3" height="1.3"/>
<rect x="473.86" y="510.46" width="1.3" height="1.3"/>
<rect x="478.80" y="510.46" width="1.3" height="1.3"/>
<rect x="483.74" y="510.46" width="1.3" height="1.3"/>
<rect x="488.68" y="510.46" width="1.3" height="1.3"/>
<rect x="493.63" y="510.46" width="1.3" height="1.3"/>
<rect x="498.57" y="510.46" width="1.3" height="1.3"/>
<rect x="508.46" y="510.46" width="1.3" height="1.3"/>
<rect x="513.40" y="510.46" width="1.3" height="1.3"/>
<rect x="518.34" y="510.46" width="1.3" height="1.3"/>
<rect x="523.28" y="510.46" width="1.3" height="1.3"/>
<rect x="528.23" y="510.46" width="1.3" height="1.3"/>
<rect x="300.85" y="514.83" width="1.3" height="1.3"/>
<rect x="310.74" y="514.83" width="1.3" height="1.3"/>
<rect x="315.68" y="514.83" width="1.3" height="1.3"/>
<rect x="320.62" y="514.83" width="1.3" height="1.3"/>
<rect x="325.56" y="514.83" width="1.3" height="1.3"/>
<rect x="330.51" y="514.83" width="1.3" height="1.3"/>
<rect x="335.45" y="514.83" width="1.3" height="1.3"/>
<rect x="340.39" y="514.83" width="1.3" height="1.3"/>
<rect x="345.34" y="514.83" width="1.3" height="1.3"/>
<rect x="350.28" y="514.83" width="1.3" height="1.3"/>
<rect x="355.22" y="514.83" width="1.3" height="1.3"/>
<rect x="360.17" y="514.83" width="1.3" height="1.3"/>
<rect x="365.11" y="514.83" width="1.3" height="1.3"/>
<rect x="370.05" y="514.83" width="1.3" height="1.3"/>
<rect x="375.00" y="514.83" width="1.3" height="1.3"/>
<rect x="379.94" y="514.83" width="1.3" height="1.3"/>
<rect x="384.88" y="514.83" width="1.3" height="1.3"/>
<rect x="389.82" y="514.83" width="1.3" height="1.3"/>
<rect x="394.77" y="514.83" width="1.3" height="1.3"/>
<rect x="399.71" y="514.83" width="1.3" height="1.3"/>
<rect x="404.65" y="514.83" width="1.3" height="1.3"/>
<rect x="409.60" y="514.83" width="1.3" height="1.3"/>
<rect x="414.54" y="514.83" width="1.3" height="1.3"/>
<rect x="419.48" y="514.83" width="1.3" height="1.3"/>
<rect x="424.43" y="514.83" width="1.3" height="1.3"/>
<rect x="429.37" y="514.83" width="1.3" height="1.3"/>
<rect x="434.31" y="514.83" width="1.3" height="1.3"/>
<rect x="439.25" y="514.83" width="1.3" height="1.3"/>
<rect x="444.20" y="514.83" width="1.3" height="1.3"/>
<rect x="449.14" y="514.83" width="1.3" height="1.3"/>
<rect x="454.08" y="514.83" width="1.3" height="1.3"/>
<rect x="459.03" y="514.83" width="1.3" height="1.3"/>
<rect x="463.97" y="514.83" width="1.3" height="1.3"/>
<rect x="468.91" y="514.83" width="1.3" height="1.3"/>
<rect x="473.86" y="514.83" width="1.3" height="1.3"/>
<rect x="478.80" y="514.83" width="1.3" height="1.3"/>
<rect x="483.74" y="514.83" width="1.3" height="1.3"/>
<rect x="488.68" y="514.83" width="1.3" height="1.3"/>
<rect x="493.63" y="514.83" width="1.3" height="1.3"/>
<rect x="498.57" y="514.83" width="1.3" height="1.3"/>
<rect x="503.51" y="514.83" width="1.3" height="1.3"/>
<rect x="508.46" y="514.83" width="1.3" height="1.3"/>
<rect x="513.40" y="514.83" width="1.3" height="1.3"/>
<rect x="518.34" y="514.83" width="1.3" height="1.3"/>
<rect x="523.28" y="514.83" width="1.3" height="1.3"/>
<rect x="528.23" y="514.83" width="1.3" height="1.3"/>
<rect x="300.85" y="519.19" width="1.3" height="1.3"/>
<rect x="305.79" y="519.19" width="1.3" height="1.3"/>
<rect x="310.74" y="519.19" width="1.3" height="1.3"/>
<rect x="315.68" y="519.19" width="1.3" height="1.3"/>
<rect x="320.62" y="519.19" width="1.3" height="1.3"/>
<rect x="325.56" y="519.19" width="1.3" height="1.3"/>
<rect x="330.51" y="519.19" width="1.3" height="1.3"/>
<rect x="335.45" y="519.19" width="1.3" height="1.3"/>
<rect x="340.39" y="519.19" width="1.3" height="1.3"/>
<rect x="345.34" y="519.19" width="1.3" height="1.3"/>
<rect x="350.28" y="519.19" width="1.3" height="1.3"/>
<rect x="355.22" y="519.19" width="1.3" height="1.3"/>
<rect x="360.17" y="519.19" width="1.3" height="1.3"/>
<rect x="365.11" y="519.19" width="1.3" height="1.3"/>
<rect x="370.05" y="519.19" width="1.3" height="1.3"/>
<rect x="375.00" y="519.19" width="1.3" height="1.3"/>
<rect x="379.94" y="519.19" width="1.3" height="1.3"/>
<rect x="384.88" y="519.19" width="1.3" height="1.3"/>
<rect x="389.82" y="519.19" width="1.3" height="1.3"/>
<rect x="394.77" y="519.19" width="1.3" height="1.3"/>
<rect x="399.71" y="519.19" width="1.3" height="1.3"/>
<rect x="404.65" y="519.19" width="1.3" height="1.3"/>
<rect x="409.60" y="519.19" width="1.3" height="1.3"/>
<rect x="414.54" y="519.19" width="1.3" height="1.3"/>
<rect x="419.48" y="519.19" width="1.3" height="1.3"/>
<rect x="424.43" y="519.19" width="1.3" height="1.3"/>
<rect x="429.37" y="519.19" width="1.3" height="1.3"/>
<rect x="434.31" y="519.19" width="1.3" height="1.3"/>
<rect x="439.25" y="519.19" width="1.3" height="1.3"/>
<rect x="449.14" y="519.19" width="1.3" height="1.3"/>
<rect x="454.08" y="519.19" width="1.3" height="1.3"/>
<rect x="459.03" y="519.19" width="1.3" height="1.3"/>
<rect x="463.97" y="519.19" width="1.3" height="1.3"/>
<rect x="468.91" y="519.19" width="1.3" height="1.3"/>
<rect x="473.86" y="519.19" width="1.3" height="1.3"/>
<rect x="478.80" y="519.19" width="1.3" height="1.3"/>
<rect x="483.74" y="519.19" width="1.3" height="1.3"/>
<rect x="488.68" y="519.19" width="1.3" height="1.3"/>
<rect x="493.63" y="519.19" width="1.3" height="1.3"/>
<rect x="498.57" y="519.19" width="1.3" height="1.3"/>
<rect x="503.51" y="519.19" width="1.3" height="1.3"/>
<rect x="508.46" y="519.19" width="1.3" height="1.3"/>
<rect x="513.40" y="519.19" width="1.3" height="1.3"/>
<rect x="518.34" y="519.19" width="1.3" height="1.3"/>
<rect x="523.28" y="519.19" width="1.3" height="1.3"/>
<rect x="528.23" y="519.19" width="1.3" height="1.3"/>
<rect x="300.85" y="523.56" width="1.3" height="1.3"/>
<rect x="305.79" y="523.56" width="1.3" height="1.3"/>
<rect x="310.74" y="523.56" width="1.3" height="1.3"/>
<rect x="315.68" y="523.56" width="1.3" height="1.3"/>
<rect x="320.62" y="523.56" width="1.3" height="1.3"/>
<rect x="325.56" y="523.56" width="1.3" height="1.3"/>
<rect x="330.51" y="523.56" width="1.3" height="1.3"/>
<rect x="335.45" y="523.56" width="1.3" height="1.3"/>
<rect x="340.39" y="523.56" width="1.3" height="1.3"/>
<rect x="345.34" y="523.56" width="1.3" height="1.3"/>
<rect x="350.28" y="523.56" width="1.3" height="1.3"/>
<rect x="355.22" y="523.56" width="1.3" height="1.3"/>
<rect x="360.17" y="523.56" width="1.3" height="1.3"/>
<rect x="365.11" y="523.56" width="1.3" height="1.3"/>
<rect x="370.05" y="523.56" width="1.3" height="1.3"/>
<rect x="375.00" y="523.56" width="1.3" height="1.3"/>
<rect x="379.94" y="523.56" width="1.3" height="1.3"/>
<rect x="389.82" y="523.56" width="1.3" height="1.3"/>
<rect x="394.77" y="523.56" width="1.3" height="1.3"/>
<rect x="399.71" y="523.56" width="1.3" height="1.3"/>
<rect x="404.65" y="523.56" width="1.3" height="1.3"/>
<rect x="409.60" y="523.56" width="1.3" height="1.3"/>
<rect x="414.54" y="523.56" width="1.3" height="1.3"/>
<rect x="419.48" y="523.56" width="1.3" height="1.3"/>
<rect x="424.43" y="523.56" width="1.3" height="1.3"/>
<rect x="429.37" y="523.56" width="1.3" height="1.3"/>
<rect x="434.31" y="523.56" width="1.3" height="1.3"/>
<rect x="439.25" y="523.56" width="1.3" height="1.3"/>
<rect x="444.20" y="523.56" width="1.3" height="1.3"/>
<rect x="449.14" y="523.56" width="1.3" height="1.3"/>
<rect x="454.08" y="523.56" width="1.3" height="1.3"/>
<rect x="459.03" y="523.56" width="1.3" height="1.3"/>
<rect x="463.97" y="523.56" width="1.3" height="1.3"/>
<rect x="468.91" y="523.56" width="1.3" height="1.3"/>
<rect x="473.86" y="523.56" width="1.3" height="1.3"/>
<rect x="478.80" y="523.56" width="1.3" height="1.3"/>
<rect x="483.74" y="523.56" width="1.3" height="1.3"/>
<rect x="488.68" y="523.56" width="1.3" height="1.3"/>
<rect x="493.63" y="523.56" width="1.3" height="1.3"/>
<rect x="498.57" y="523.56" width="1.3" height="1.3"/>
<rect x="503.51" y="523.56" width="1.3" height="1.3"/>
<rect x="508.46" y="523.56" width="1.3" height="1.3"/>
<rect x="513.40" y="523.56" width="1.3" height="1.3"/>
<rect x="518.34" y="523.56" width="1.3" height="1.3"/>
<rect x="523.28" y="523.56" width="1.3" height="1.3"/>
<rect x="528.23" y="523.56" width="1.3" height="1.3"/>
<rect x="300.85" y="527.93" width="1.3" height="1.3"/>
<rect x="305.79" y="527.93" width="1.3" height="1.3"/>
<rect x="310.74" y="527.93" width="1.3" height="1.3"/>
<rect x="315.68" y="527.93" width="1.3" height="1.3"/>
<rect x="320.62" y="527.93" width="1.3" height="1.3"/>
<rect x="325.56" y="527.93" width="1.3" height="1.3"/>
<rect x="330.51" y="527.93" width="1.3" height="1.3"/>
<rect x="335.45" y="527.93" width="1.3" height="1.3"/>
<rect x="340.39" y="527.93" width="1.3" height="1.3"/>
<rect x="345.34" y="527.93" width="1.3" height="1.3"/>
<rect x="350.28" y="527.93" width="1.3" height="1.3"/>
<rect x="355.22" y="527.93" width="1.3" height="1.3"/>
<rect x="360.17" y="527.93" width="1.3" height="1.3"/>
<rect x="365.11" y="527.93" width="1.3" height="1.3"/>
<rect x="370.05" y="527.93" width="1.3" height="1.3"/>
<rect x="375.00" y="527.93" width="1.3" height="1.3"/>
<rect x="384.88" y="527.93" width="1.3" height="1.3"/>
<rect x="389.82" y="527.93" width="1.3" height="1.3"/>
<rect x="394.77" y="527.93" width="1.3" height="1.3"/>
<rect x="399.71" y="527.93" width="1.3" height="1.3"/>
<rect x="404.65" y="527.93" width="1.3" height="1.3"/>
<rect x="409.60" y="527.93" width="1.3" height="1.3"/>
<rect x="414.54" y="527.93" width="1.3" height="1.3"/>
<rect x="419.48" y="527.93" width="1.3" height="1.3"/>
<rect x="424.43" y="527.93" width="1.3" height="1.3"/>
<rect x="429.37" y="527.93" width="1.3" height="1.3"/>
<rect x="434.31" y="527.93" width="1.3" height="1.3"/>
<rect x="439.25" y="527.93" width="1.3" height="1.3"/>
<rect x="444.20" y="527.93" width="1.3" height="1.3"/>
<rect x="449.14" y="527.93" width="1.3" height="1.3"/>
<rect x="454.08" y="527.93" width="1.3" height="1.3"/>
<rect x="459.03" y="527.93" width="1.3" height="1.3"/>
<rect x="463.97" y="527.93" width="1.3" height="1.3"/>
<rect x="468.91" y="527.93" width="1.3" height="1.3"/>
<rect x="473.86" y="527.93" width="1.3" height="1.3"/>
<rect x="478.80" y="527.93" width="1.3" height="1.3"/>
<rect x="483.74" y="527.93" width="1.3" height="1.3"/>
<rect x="488.68" y="527.93" width="1.3" height="1.3"/>
<rect x="493.63" y="527.93" width="1.3" height="1.3"/>
<rect x="498.57" y="527.93" width="1.3" height="1.3"/>
<rect x="503.51" y="527.93" width="1.3" height="1.3"/>
<rect x="508.46" y="527.93" width="1.3" height="1.3"/>
<rect x="513.40" y="527.93" width="1.3" height="1.3"/>
<rect x="518.34" y="527.93" width="1.3" height="1.3"/>
<rect x="523.28" y="527.93" width="1.3" height="1.3"/>
<rect x="528.23" y="527.93" width="1.3" height="1.3"/>
<rect x="300.85" y="532.30" width="1.3" height="1.3"/>
<rect x="305.79" y="532.30" width="1.3" height="1.3"/>
<rect x="310.74" y="532.30" width="1.3" height="1.3"/>
<rect x="315.68" y="532.30" width="1.3" height="1.3"/>
<rect x="320.62" y="532.30" width="1.3" height="1.3"/>
<rect x="325.56" y="532.30" width="1.3" height="1.3"/>
<rect x="330.51" y="532.30" width="1.3" height="1.3"/>
<rect x="335.45" y="532.30" width="1.3" height="1.3"/>
<rect x="340.39" y="532.30" width="1.3" height="1.3"/>
<rect x="345.34" y="532.30" width="1.3" height="1.3"/>
<rect x="350.28" y="532.30" width="1.3" height="1.3"/>
<rect x="355.22" y="532.30" width="1.3" height="1.3"/>
<rect x="360.17" y="532.30" width="1.3" height="1.3"/>
<rect x="365.11" y="532.30" width="1.3" height="1.3"/>
<rect x="370.05" y="532.30" width="1.3" height="1.3"/>
<rect x="375.00" y="532.30" width="1.3" height="1.3"/>
<rect x="379.94" y="532.30" width="1.3" height="1.3"/>
<rect x="389.82" y="532.30" width="1.3" height="1.3"/>
<rect x="394.77" y="532.30" width="1.3" height="1.3"/>
<rect x="399.71" y="532.30" width="1.3" height="1.3"/>
<rect x="404.65" y="532.30" width="1.3" height="1.3"/>
<rect x="409.60" y="532.30" width="1.3" height="1.3"/>
<rect x="414.54" y="532.30" width="1.3" height="1.3"/>
<rect x="419.48" y="532.30" width="1.3" height="1.3"/>
<rect x="424.43" y="532.30" width="1.3" height="1.3"/>
<rect x="429.37" y="532.30" width="1.3" height="1.3"/>
<rect x="434.31" y="532.30" width="1.3" height="1.3"/>
<rect x="439.25" y="532.30" width="1.3" height="1.3"/>
<rect x="444.20" y="532.30" width="1.3" height="1.3"/>
<rect x="449.14" y="532.30" width="1.3" height="1.3"/>
<rect x="454.08" y="532.30" width="1.3" height="1.3"/>
<rect x="459.03" y="532.30" width="1.3" height="1.3"/>
<rect x="463.97" y="532.30" width="1.3" height="1.3"/>
<rect x="468.91" y="532.30" width="1.3" height="1.3"/>
<rect x="473.86" y="532.30" width="1.3" height="1.3"/>
<rect x="478.80" y="532.30" width="1.3" height="1.3"/>
<rect x="483.74" y="532.30" width="1.3" height="1.3"/>
<rect x="488.68" y="532.30" width="1.3" height="1.3"/>
<rect x="493.63" y="532.30" width="1.3" height="1.3"/>
<rect x="498.57" y="532.30" width="1.3" height="1.3"/>
<rect x="503.51" y="532.30" width="1.3" height="1.3"/>
<rect x="508.46" y="532.30" width="1.3" height="1.3"/>
<rect x="513.40" y="532.30" width="1.3" height="1.3"/>
<rect x="518.34" y="532.30" width="1.3" height="1.3"/>
<rect x="523.28" y="532.30" width="1.3" height="1.3"/>
<rect x="528.23" y="532.30" width="1.3" height="1.3"/>
<rect x="300.85" y="536.66" width="1.3" height="1.3"/>
<rect x="305.79" y="536.66" width="1.3" height="1.3"/>
<rect x="310.74" y="536.66" width="1.3" height="1.3"/>
<rect x="315.68" y="536.66" width="1.3" height="1.3"/>
<rect x="320.62" y="536.66" width="1.3" height="1.3"/>
<rect x="325.56" y="536.66" width="1.3" height="1.3"/>
<rect x="330.51" y="536.66" width="1.3" height="1.3"/>
<rect x="335.45" y="536.66" width="1.3" height="1.3"/>
<rect x="340.39" y="536.66" width="1.3" height="1.3"/>
<rect x="345.34" y="536.66" width="1.3" height="1.3"/>
<rect x="350.28" y="536.66" width="1.3" height="1.3"/>
<rect x="355.22" y="536.66" width="1.3" height="1.3"/>
<rect x="360.17" y="536.66" width="1.3" height="1.3"/>
<rect x="365.11" y="536.66" width="1.3" height="1.3"/>
<rect x="370.05" y="536.66" width="1.3" height="1.3"/>
<rect x="375.00" y="536.66" width="1.3" height="1.3"/>
<rect x="379.94" y="536.66" width="1.3" height="1.3"/>
<rect x="384.88" y="536.66" width="1.3" height="1.3"/>
<rect x="389.82" y="536.66" width="1.3" height="1.3"/>
<rect x="394.77" y="536.66" width="1.3" height="1.3"/>
<rect x="399.71" y="536.66" width="1.3" height="1.3"/>
<rect x="404.65" y="536.66" width="1.3" height="1.3"/>
<rect x="409.60" y="536.66" width="1.3" height="1.3"/>
<rect x="414.54" y="536.66" width="1.3" height="1.3"/>
<rect x="419.48" y="536.66" width="1.3" height="1.3"/>
<rect x="424.43" y="536.66" width="1.3" height="1.3"/>
<rect x="429.37" y="536.66" width="1.3" height="1.3"/>
<rect x="434.31" y="536.66" width="1.3" height="1.3"/>
<rect x="439.25" y="536.66" width="1.3" height="1.3"/>
<rect x="444.20" y="536.66" width="1.3" height="1.3"/>
<rect x="449.14" y="536.66" width="1.3" height="1.3"/>
<rect x="454.08" y="536.66" width="1.3" height="1.3"/>
<rect x="459.03" y="536.66" width="1.3" height="1.3"/>
<rect x="463.97" y="536.66" width="1.3" height="1.3"/>
<rect x="468.91" y="536.66" width="1.3" height="1.3"/>
<rect x="478.80" y="536.66" width="1.3" height="1.3"/>
<rect x="483.74" y="536.66" width="1.3" height="1.3"/>
<rect x="488.68" y="536.66" width="1.3" height="1.3"/>
<rect x="493.63" y="536.66" width="1.3" height="1.3"/>
<rect x="498.57" y="536.66" width="1.3" height="1.3"/>
<rect x="503.51" y="536.66" width="1.3" height="1.3"/>
<rect x="508.46" y="536.66" width="1.3" height="1.3"/>
<rect x="513.40" y="536.66" width="1.3" height="1.3"/>
<rect x="518.34" y="536.66" width="1.3" height="1.3"/>
<rect x="523.28" y="536.66" width="1.3" height="1.3"/>
<rect x="528.23" y="536.66" width="1.3" height="1.3"/>
<rect x="300.85" y="541.03" width="1.3" height="1.3"/>
<rect x="305.79" y="541.03" width="1.3" height="1.3"/>
<rect x="310.74" y="541.03" width="1.3" height="1.3"/>
<rect x="315.68" y="541.03" width="1.3" height="1.3"/>
<rect x="320.62" y="541.03" width="1.3" height="1.3"/>
<rect x="325.56" y="541.03" width="1.3" height="1.3"/>
<rect x="330.51" y="541.03" width="1.3" height="1.3"/>
<rect x="335.45" y="541.03" width="1.3" height="1.3"/>
<rect x="340.39" y="541.03" width="1.3" height="1.3"/>
<rect x="345.34" y="541.03" width="1.3" height="1.3"/>
<rect x="350.28" y="541.03" width="1.3" height="1.3"/>
<rect x="355.22" y="541.03" width="1.3" height="1.3"/>
<rect x="360.17" y="541.03" width="1.3" height="1.3"/>
<rect x="365.11" y="541.03" width="1.3" height="1.3"/>
<rect x="370.05" y="541.03" width="1.3" height="1.3"/>
<rect x="375.00" y="541.03" width="1.3" height="1.3"/>
<rect x="379.94" y="541.03" width="1.3" height="1.3"/>
<rect x="384.88" y="541.03" width="1.3" height="1.3"/>
<rect x="389.82" y="541.03" width="1.3" height="1.3"/>
<rect x="394.77" y="541.03" width="1.3" height="1.3"/>
<rect x="399.71" y="541.03" width="1.3" height="1.3"/>
<rect x="404.65" y="541.03" width="1.3" height="1.3"/>
<rect x="409.60" y="541.03" width="1.3" height="1.3"/>
<rect x="414.54" y="541.03" width="1.3" height="1.3"/>
<rect x="419.48" y="541.03" width="1.3" height="1.3"/>
<rect x="424.43" y="541.03" width="1.3" height="1.3"/>
<rect x="429.37" y="541.03" width="1.3" height="1.3"/>
<rect x="439.25" y="541.03" width="1.3" height="1.3"/>
<rect x="444.20" y="541.03" width="1.3" height="1.3"/>
<rect x="449.14" y="541.03" width="1.3" height="1.3"/>
<rect x="454.08" y="541.03" width="1.3" height="1.3"/>
<rect x="459.03" y="541.03" width="1.3" height="1.3"/>
<rect x="463.97" y="541.03" width="1.3" height="1.3"/>
<rect x="468.91" y="541.03" width="1.3" height="1.3"/>
<rect x="473.86" y="541.03" width="1.3" height="1.3"/>
<rect x="478.80" y="541.03" width="1.3" height="1.3"/>
<rect x="483.74" y="541.03" width="1.3" height="1.3"/>
<rect x="488.68" y="541.03" width="1.3" height="1.3"/>
<rect x="493.63" y="541.03" width="1.3" height="1.3"/>
<rect x="498.57" y="541.03" width="1.3" height="1.3"/>
<rect x="503.51" y="541.03" width="1.3" height="1.3"/>
<rect x="508.46" y="541.03" width="1.3" height="1.3"/>
<rect x="513.40" y="541.03" width="1.3" height="1.3"/>
<rect x="518.34" y="541.03" width="1.3" height="1.3"/>
<rect x="523.28" y="541.03" width="1.3" height="1.3"/>
<rect x="528.23" y="541.03" width="1.3" height="1.3"/>
</g>
<g fill="#c0141b">
<rect x="299.50" y="378.35" width="4.0" height="3.5"/>
<rect x="304.44" y="378.35" width="4.0" height="3.5"/>
<rect x="309.39" y="378.35" width="4.0" height="3.5"/>
<rect x="314.33" y="378.35" width="4.0" height="3.5"/>
<rect x="319.27" y="378.35" width="4.0" height="3.5"/>
<rect x="324.21" y="378.35" width="4.0" height="3.5"/>
<rect x="329.16" y="378.35" width="4.0" height="3.5"/>
<rect x="334.10" y="378.35" width="4.0" height="3.5"/>
<rect x="299.50" y="382.72" width="4.0" height="3.5"/>
<rect x="339.04" y="382.72" width="4.0" height="3.5"/>
<rect x="343.99" y="382.72" width="4.0" height="3.5"/>
<rect x="348.93" y="382.72" width="4.0" height="3.5"/>
<rect x="353.87" y="382.72" width="4.0" height="3.5"/>
<rect x="358.82" y="382.72" width="4.0" height="3.5"/>
<rect x="363.76" y="382.72" width="4.0" height="3.5"/>
<rect x="368.70" y="382.72" width="4.0" height="3.5"/>
<rect x="304.44" y="387.08" width="4.0" height="3.5"/>
<rect x="339.04" y="387.08" width="4.0" height="3.5"/>
<rect x="373.64" y="387.08" width="4.0" height="3.5"/>
<rect x="378.59" y="387.08" width="4.0" height="3.5"/>
<rect x="383.53" y="387.08" width="4.0" height="3.5"/>
<rect x="388.47" y="387.08" width="4.0" height="3.5"/>
<rect x="393.42" y="387.08" width="4.0" height="3.5"/>
<rect x="304.44" y="391.45" width="4.0" height="3.5"/>
<rect x="343.99" y="391.45" width="4.0" height="3.5"/>
<rect x="398.36" y="391.45" width="4.0" height="3.5"/>
<rect x="403.30" y="391.45" width="4.0" height="3.5"/>
<rect x="408.25" y="391.45" width="4.0" height="3.5"/>
<rect x="413.19" y="391.45" width="4.0" height="3.5"/>
<rect x="418.13" y="391.45" width="4.0" height="3.5"/>
<rect x="299.50" y="395.82" width="4.0" height="3.5"/>
<rect x="339.04" y="395.82" width="4.0" height="3.5"/>
<rect x="373.64" y="395.82" width="4.0" height="3.5"/>
<rect x="378.59" y="395.82" width="4.0" height="3.5"/>
<rect x="398.36" y="395.82" width="4.0" height="3.5"/>
<rect x="423.07" y="395.82" width="4.0" height="3.5"/>
<rect x="428.02" y="395.82" width="4.0" height="3.5"/>
<rect x="348.93" y="400.19" width="4.0" height="3.5"/>
<rect x="383.53" y="400.19" width="4.0" height="3.5"/>
<rect x="403.30" y="400.19" width="4.0" height="3.5"/>
<rect x="423.07" y="400.19" width="4.0" height="3.5"/>
<rect x="432.96" y="400.19" width="4.0" height="3.5"/>
<rect x="437.90" y="400.19" width="4.0" height="3.5"/>
<rect x="339.04" y="404.55" width="4.0" height="3.5"/>
<rect x="343.99" y="404.55" width="4.0" height="3.5"/>
<rect x="428.02" y="404.55" width="4.0" height="3.5"/>
<rect x="442.85" y="404.55" width="4.0" height="3.5"/>
<rect x="447.79" y="404.55" width="4.0" height="3.5"/>
<rect x="452.73" y="404.55" width="4.0" height="3.5"/>
<rect x="304.44" y="408.92" width="4.0" height="3.5"/>
<rect x="353.87" y="408.92" width="4.0" height="3.5"/>
<rect x="383.53" y="408.92" width="4.0" height="3.5"/>
<rect x="457.68" y="408.92" width="4.0" height="3.5"/>
<rect x="462.62" y="408.92" width="4.0" height="3.5"/>
<rect x="467.56" y="408.92" width="4.0" height="3.5"/>
<rect x="299.50" y="413.29" width="4.0" height="3.5"/>
<rect x="309.39" y="413.29" width="4.0" height="3.5"/>
<rect x="339.04" y="413.29" width="4.0" height="3.5"/>
<rect x="358.82" y="413.29" width="4.0" height="3.5"/>
<rect x="457.68" y="413.29" width="4.0" height="3.5"/>
<rect x="472.50" y="413.29" width="4.0" height="3.5"/>
<rect x="373.64" y="417.65" width="4.0" height="3.5"/>
<rect x="383.53" y="417.65" width="4.0" height="3.5"/>
<rect x="442.85" y="417.65" width="4.0" height="3.5"/>
<rect x="462.62" y="417.65" width="4.0" height="3.5"/>
<rect x="477.45" y="417.65" width="4.0" height="3.5"/>
<rect x="373.64" y="422.02" width="4.0" height="3.5"/>
<rect x="423.07" y="422.02" width="4.0" height="3.5"/>
<rect x="457.68" y="422.02" width="4.0" height="3.5"/>
<rect x="482.39" y="422.02" width="4.0" height="3.5"/>
<rect x="432.96" y="426.39" width="4.0" height="3.5"/>
<rect x="477.45" y="426.39" width="4.0" height="3.5"/>
<rect x="487.33" y="426.39" width="4.0" height="3.5"/>
<rect x="492.28" y="426.39" width="4.0" height="3.5"/>
<rect x="314.33" y="430.75" width="4.0" height="3.5"/>
<rect x="432.96" y="430.75" width="4.0" height="3.5"/>
<rect x="482.39" y="430.75" width="4.0" height="3.5"/>
<rect x="497.22" y="430.75" width="4.0" height="3.5"/>
<rect x="403.30" y="435.12" width="4.0" height="3.5"/>
<rect x="482.39" y="435.12" width="4.0" height="3.5"/>
<rect x="502.16" y="435.12" width="4.0" height="3.5"/>
<rect x="507.11" y="435.12" width="4.0" height="3.5"/>
<rect x="373.64" y="439.49" width="4.0" height="3.5"/>
<rect x="388.47" y="439.49" width="4.0" height="3.5"/>
<rect x="408.25" y="439.49" width="4.0" height="3.5"/>
<rect x="442.85" y="439.49" width="4.0" height="3.5"/>
<rect x="339.04" y="443.86" width="4.0" height="3.5"/>
<rect x="363.76" y="443.86" width="4.0" height="3.5"/>
<rect x="423.07" y="443.86" width="4.0" height="3.5"/>
<rect x="447.79" y="443.86" width="4.0" height="3.5"/>
<rect x="358.82" y="448.22" width="4.0" height="3.5"/>
<rect x="383.53" y="448.22" width="4.0" height="3.5"/>
<rect x="398.36" y="448.22" width="4.0" height="3.5"/>
<rect x="512.05" y="448.22" width="4.0" height="3.5"/>
<rect x="423.07" y="452.59" width="4.0" height="3.5"/>
<rect x="516.99" y="452.59" width="4.0" height="3.5"/>
<rect x="521.93" y="452.59" width="4.0" height="3.5"/>
<rect x="462.62" y="456.96" width="4.0" height="3.5"/>
<rect x="467.56" y="456.96" width="4.0" height="3.5"/>
<rect x="482.39" y="456.96" width="4.0" height="3.5"/>
<rect x="393.42" y="461.32" width="4.0" height="3.5"/>
<rect x="462.62" y="461.32" width="4.0" height="3.5"/>
<rect x="304.44" y="465.69" width="4.0" height="3.5"/>
<rect x="343.99" y="465.69" width="4.0" height="3.5"/>
<rect x="353.87" y="470.06" width="4.0" height="3.5"/>
<rect x="432.96" y="470.06" width="4.0" height="3.5"/>
<rect x="304.44" y="474.42" width="4.0" height="3.5"/>
<rect x="477.45" y="474.42" width="4.0" height="3.5"/>
<rect x="343.99" y="478.79" width="4.0" height="3.5"/>
<rect x="348.93" y="478.79" width="4.0" height="3.5"/>
<rect x="304.44" y="483.16" width="4.0" height="3.5"/>
<rect x="368.70" y="483.16" width="4.0" height="3.5"/>
<rect x="472.50" y="487.53" width="4.0" height="3.5"/>
<rect x="526.88" y="487.53" width="4.0" height="3.5"/>
<rect x="393.42" y="491.89" width="4.0" height="3.5"/>
<rect x="398.36" y="491.89" width="4.0" height="3.5"/>
<rect x="343.99" y="496.26" width="4.0" height="3.5"/>
<rect x="299.50" y="500.63" width="4.0" height="3.5"/>
<rect x="398.36" y="504.99" width="4.0" height="3.5"/>
<rect x="502.16" y="509.36" width="4.0" height="3.5"/>
<rect x="304.44" y="513.73" width="4.0" height="3.5"/>
<rect x="442.85" y="518.09" width="4.0" height="3.5"/>
<rect x="383.53" y="522.46" width="4.0" height="3.5"/>
<rect x="378.59" y="526.83" width="4.0" height="3.5"/>
<rect x="383.53" y="531.20" width="4.0" height="3.5"/>
<rect x="472.50" y="535.56" width="4.0" height="3.5"/>
<rect x="432.96" y="539.93" width="4.0" height="3.5"/>
</g>
<text x="295.50" y="382.00" font-size="5.4" text-anchor="end" fill="#4a7bd0" stroke="#4a7bd0" stroke-width="0.18" font-style="italic" >KRAS</text>
<text x="295.50" y="386.37" font-size="5.4" text-anchor="end" fill="#f23a3a" stroke="#f23a3a" stroke-width="0.18" font-style="italic" >NF1</text>
<text x="295.50" y="390.73" font-size="5.4" text-anchor="end" fill="#4a7bd0" stroke="#4a7bd0" stroke-width="0.18" font-style="italic" >ERBB3</text>
<text x="295.50" y="395.10" font-size="5.4" text-anchor="end" fill="#4a7bd0" stroke="#4a7bd0" stroke-width="0.18" font-style="italic" >PDGFRB</text>
<text x="295.50" y="399.47" font-size="5.4" text-anchor="end" fill="#4a7bd0" stroke="#4a7bd0" stroke-width="0.18" font-style="italic" >RET</text>
<text x="295.50" y="403.83" font-size="5.4" text-anchor="end" fill="#4a7bd0" stroke="#4a7bd0" stroke-width="0.18" font-style="italic" >ALK</text>
<text x="295.50" y="408.20" font-size="5.4" text-anchor="end" fill="#222" stroke="#222" stroke-width="0.18" font-style="italic" >INSR</text>
<text x="295.50" y="412.57" font-size="5.4" text-anchor="end" fill="#4a7bd0" stroke="#4a7bd0" stroke-width="0.18" font-style="italic" >MET</text>
<text x="295.50" y="416.94" font-size="5.4" text-anchor="end" fill="#4a7bd0" stroke="#4a7bd0" stroke-width="0.18" font-style="italic" >ROS1</text>
<text x="295.50" y="421.30" font-size="5.4" text-anchor="end" fill="#4a7bd0" stroke="#4a7bd0" stroke-width="0.18" font-style="italic" >EGFR</text>
<text x="295.50" y="425.67" font-size="5.4" text-anchor="end" fill="#4a7bd0" stroke="#4a7bd0" stroke-width="0.18" font-style="italic" >ERBB2</text>
<text x="295.50" y="430.04" font-size="5.4" text-anchor="end" fill="#4a7bd0" stroke="#4a7bd0" stroke-width="0.18" font-style="italic" >ERBB4</text>
<text x="295.50" y="434.40" font-size="5.4" text-anchor="end" fill="#4a7bd0" stroke="#4a7bd0" stroke-width="0.18" font-style="italic" >FGFR3</text>
<text x="295.50" y="438.77" font-size="5.4" text-anchor="end" fill="#4a7bd0" stroke="#4a7bd0" stroke-width="0.18" font-style="italic" >IGF1R</text>
<text x="295.50" y="443.14" font-size="5.4" text-anchor="end" fill="#4a7bd0" stroke="#4a7bd0" stroke-width="0.18" font-style="italic" >RIT1</text>
<text x="295.50" y="447.50" font-size="5.4" text-anchor="end" fill="#f23a3a" stroke="#f23a3a" stroke-width="0.18" font-style="italic" >RASA1</text>
<text x="295.50" y="451.87" font-size="5.4" text-anchor="end" fill="#4a7bd0" stroke="#4a7bd0" stroke-width="0.18" font-style="italic" >SOS1</text>
<text x="295.50" y="456.24" font-size="5.4" text-anchor="end" fill="#4a7bd0" stroke="#4a7bd0" stroke-width="0.18" font-style="italic" >FGFR2</text>
<text x="295.50" y="460.61" font-size="5.4" text-anchor="end" fill="#4a7bd0" stroke="#4a7bd0" stroke-width="0.18" font-style="italic" >RAC1</text>
<text x="295.50" y="464.97" font-size="5.4" text-anchor="end" fill="#4a7bd0" stroke="#4a7bd0" stroke-width="0.18" font-style="italic" >ABL1</text>
<text x="295.50" y="469.34" font-size="5.4" text-anchor="end" fill="#4a7bd0" stroke="#4a7bd0" stroke-width="0.18" font-style="italic" >ARAF</text>
<text x="295.50" y="473.71" font-size="5.4" text-anchor="end" fill="#4a7bd0" stroke="#4a7bd0" stroke-width="0.18" font-style="italic" >BRAF</text>
<text x="295.50" y="478.07" font-size="5.4" text-anchor="end" fill="#444" stroke="#444" stroke-width="0.18" font-style="italic" >CBLB</text>
<text x="295.50" y="482.44" font-size="5.4" text-anchor="end" fill="#f23a3a" stroke="#f23a3a" stroke-width="0.18" font-style="italic" >ERF</text>
<text x="295.50" y="486.81" font-size="5.4" text-anchor="end" fill="#222" stroke="#222" stroke-width="0.18" font-style="italic" >MAPK3</text>
<text x="295.50" y="491.18" font-size="5.4" text-anchor="end" fill="#4a7bd0" stroke="#4a7bd0" stroke-width="0.18" font-style="italic" >NRAS</text>
<text x="295.50" y="495.54" font-size="5.4" text-anchor="end" fill="#444" stroke="#444" stroke-width="0.18" font-style="italic" >SPRED1</text>
<text x="295.50" y="499.91" font-size="5.4" text-anchor="end" fill="#f23a3a" stroke="#f23a3a" stroke-width="0.18" font-style="italic" >CBL</text>
<text x="295.50" y="504.28" font-size="5.4" text-anchor="end" fill="#f23a3a" stroke="#f23a3a" stroke-width="0.18" font-style="italic" >ERRFI1</text>
<text x="295.50" y="508.64" font-size="5.4" text-anchor="end" fill="#4a7bd0" stroke="#4a7bd0" stroke-width="0.18" font-style="italic" >KIT</text>
<text x="295.50" y="513.01" font-size="5.4" text-anchor="end" fill="#4a7bd0" stroke="#4a7bd0" stroke-width="0.18" font-style="italic" >MAP2K1</text>
<text x="295.50" y="517.38" font-size="5.4" text-anchor="end" fill="#4a7bd0" stroke="#4a7bd0" stroke-width="0.18" font-style="italic" >MAP2K2</text>
<text x="295.50" y="521.74" font-size="5.4" text-anchor="end" fill="#4a7bd0" stroke="#4a7bd0" stroke-width="0.18" font-style="italic" >MAPK1</text>
<text x="295.50" y="526.11" font-size="5.4" text-anchor="end" fill="#4a7bd0" stroke="#4a7bd0" stroke-width="0.18" font-style="italic" >NTRK1</text>
<text x="295.50" y="530.48" font-size="5.4" text-anchor="end" fill="#4a7bd0" stroke="#4a7bd0" stroke-width="0.18" font-style="italic" >NTRK2</text>
<text x="295.50" y="534.85" font-size="5.4" text-anchor="end" fill="#4a7bd0" stroke="#4a7bd0" stroke-width="0.18" font-style="italic" >PDGFRA</text>
<text x="295.50" y="539.21" font-size="5.4" text-anchor="end" fill="#4a7bd0" stroke="#4a7bd0" stroke-width="0.18" font-style="italic" >PTPN11</text>
<text x="295.50" y="543.58" font-size="5.4" text-anchor="end" fill="#4a7bd0" stroke="#4a7bd0" stroke-width="0.18" font-style="italic" >RAF1</text>
</svg>
</body></html>
